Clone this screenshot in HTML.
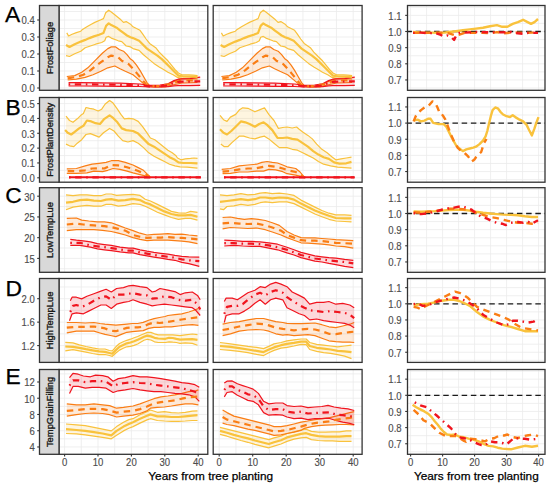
<!DOCTYPE html><html><head><meta charset="utf-8"><style>html,body{margin:0;padding:0;background:#fff;width:550px;height:487px;overflow:hidden}svg{display:block}</style></head><body>
<svg width="550" height="487" viewBox="0 0 550 487">
<rect width="550" height="487" fill="#fff"/>
<path d="M64.60 5.50V90.30M81.30 5.50V90.30M98.00 5.50V90.30M114.70 5.50V90.30M131.40 5.50V90.30M148.10 5.50V90.30M164.80 5.50V90.30M181.50 5.50V90.30M198.20 5.50V90.30M59.00 88.00H207.80M59.00 71.00H207.80M59.00 54.00H207.80M59.00 37.00H207.80M59.00 20.00H207.80M59.00 79.50H207.80M59.00 62.50H207.80M59.00 45.50H207.80M59.00 28.50H207.80M59.00 11.50H207.80" stroke="#ebebeb" stroke-width="0.8" fill="none"/>
<path d="M66.8 32.9 L68.6 36.0 L72.1 34.3 L76.4 32.6 L80.8 31.2 L82.5 29.4 L86.9 26.8 L91.3 24.2 L94.8 22.4 L100.9 19.8 L103.5 18.6 L105.7 12.8 L108.7 10.2 L111.3 12.0 L116.6 16.3 L120.9 19.8 L123.5 22.4 L126.2 21.6 L130.5 24.2 L133.0 26.8 L140.0 30.3 L142.6 33.8 L146.1 39.0 L149.6 43.4 L155.7 47.7 L159.2 52.1 L163.5 56.5 L167.9 60.8 L171.4 65.2 L174.9 69.5 L178.4 73.0 L181.8 74.8 L188.8 74.8 L193.2 75.1 L197.5 75.6 L197.5 79.1 L181.8 78.3 L177.5 77.4 L173.1 74.8 L167.9 72.2 L163.5 69.5 L159.2 66.9 L153.9 63.4 L148.7 59.1 L143.5 54.7 L139.1 50.4 L133.0 48.6 L130.5 46.9 L126.2 46.0 L121.8 41.6 L118.3 40.8 L111.3 38.1 L108.7 36.4 L106.1 37.3 L104.7 40.8 L101.7 42.5 L95.6 44.2 L90.4 46.0 L85.2 47.7 L80.8 51.2 L74.7 53.8 L69.5 56.5 L66.0 55.6Z" fill="#f9c23c" fill-opacity="0.16" stroke="none"/>
<path d="M66.8 32.9 L68.6 36.0 L72.1 34.3 L76.4 32.6 L80.8 31.2 L82.5 29.4 L86.9 26.8 L91.3 24.2 L94.8 22.4 L100.9 19.8 L103.5 18.6 L105.7 12.8 L108.7 10.2 L111.3 12.0 L116.6 16.3 L120.9 19.8 L123.5 22.4 L126.2 21.6 L130.5 24.2 L133.0 26.8 L140.0 30.3 L142.6 33.8 L146.1 39.0 L149.6 43.4 L155.7 47.7 L159.2 52.1 L163.5 56.5 L167.9 60.8 L171.4 65.2 L174.9 69.5 L178.4 73.0 L181.8 74.8 L188.8 74.8 L193.2 75.1 L197.5 75.6" fill="none" stroke="#f9c23c" stroke-width="1.2" stroke-linejoin="round"/>
<path d="M66.0 55.6 L69.5 56.5 L74.7 53.8 L80.8 51.2 L85.2 47.7 L90.4 46.0 L95.6 44.2 L101.7 42.5 L104.7 40.8 L106.1 37.3 L108.7 36.4 L111.3 38.1 L118.3 40.8 L121.8 41.6 L126.2 46.0 L130.5 46.9 L133.0 48.6 L139.1 50.4 L143.5 54.7 L148.7 59.1 L153.9 63.4 L159.2 66.9 L163.5 69.5 L167.9 72.2 L173.1 74.8 L177.5 77.4 L181.8 78.3 L197.5 79.1" fill="none" stroke="#f9c23c" stroke-width="1.2" stroke-linejoin="round"/>
<path d="M66.8 76.5 L74.7 75.6 L81.7 72.2 L87.8 67.8 L91.3 64.3 L96.5 59.1 L102.6 53.0 L107.8 48.6 L111.3 46.9 L115.7 46.9 L119.2 49.5 L123.5 51.2 L127.0 54.7 L130.5 59.1 L133.0 60.8 L136.5 65.2 L140.0 70.4 L143.5 76.5 L147.0 82.6 L149.6 85.6 L155.0 86.5 L165.0 85.5 L175.0 81.0 L181.8 78.5 L197.5 77.5 L197.5 82.5 L182.0 83.0 L175.0 84.5 L165.0 86.8 L155.0 87.0 L147.8 86.1 L143.5 83.5 L138.2 79.1 L133.0 74.8 L125.3 71.3 L120.0 68.7 L114.8 66.0 L107.8 67.8 L100.9 71.3 L93.0 74.8 L85.2 77.4 L76.4 79.1 L67.7 80.0Z" fill="#fa7d14" fill-opacity="0.16" stroke="none"/>
<path d="M66.8 76.5 L74.7 75.6 L81.7 72.2 L87.8 67.8 L91.3 64.3 L96.5 59.1 L102.6 53.0 L107.8 48.6 L111.3 46.9 L115.7 46.9 L119.2 49.5 L123.5 51.2 L127.0 54.7 L130.5 59.1 L133.0 60.8 L136.5 65.2 L140.0 70.4 L143.5 76.5 L147.0 82.6 L149.6 85.6 L155.0 86.5 L165.0 85.5 L175.0 81.0 L181.8 78.5 L197.5 77.5" fill="none" stroke="#fa7d14" stroke-width="1.2" stroke-linejoin="round"/>
<path d="M67.7 80.0 L76.4 79.1 L85.2 77.4 L93.0 74.8 L100.9 71.3 L107.8 67.8 L114.8 66.0 L120.0 68.7 L125.3 71.3 L133.0 74.8 L138.2 79.1 L143.5 83.5 L147.8 86.1 L155.0 87.0 L165.0 86.8 L175.0 84.5 L182.0 83.0 L197.5 82.5" fill="none" stroke="#fa7d14" stroke-width="1.2" stroke-linejoin="round"/>
<path d="M68.6 82.6 L80.0 82.6 L100.0 82.8 L120.0 83.2 L140.0 84.0 L149.6 85.4 L160.0 85.0 L168.0 83.8 L174.0 80.6 L178.0 79.2 L190.0 78.6 L200.2 77.2 L200.2 85.4 L190.0 85.6 L178.0 85.6 L174.0 85.9 L168.0 86.7 L160.0 86.9 L149.6 87.0 L140.0 86.5 L120.0 86.3 L100.0 86.1 L80.0 86.0 L68.6 86.0Z" fill="#f0141e" fill-opacity="0.16" stroke="none"/>
<path d="M68.6 82.6 L80.0 82.6 L100.0 82.8 L120.0 83.2 L140.0 84.0 L149.6 85.4 L160.0 85.0 L168.0 83.8 L174.0 80.6 L178.0 79.2 L190.0 78.6 L200.2 77.2" fill="none" stroke="#f0141e" stroke-width="1.2" stroke-linejoin="round"/>
<path d="M68.6 86.0 L80.0 86.0 L100.0 86.1 L120.0 86.3 L140.0 86.5 L149.6 87.0 L160.0 86.9 L168.0 86.7 L174.0 85.9 L178.0 85.6 L190.0 85.6 L200.2 85.4" fill="none" stroke="#f0141e" stroke-width="1.2" stroke-linejoin="round"/>
<path d="M66.0 45.1 L69.5 46.9 L74.7 44.2 L80.8 41.6 L85.2 39.9 L89.5 38.1 L93.9 36.4 L99.1 34.7 L103.5 32.9 L106.1 25.9 L108.7 23.3 L111.3 25.1 L116.6 27.7 L120.0 30.3 L123.5 32.9 L127.0 35.5 L130.5 37.3 L133.0 38.1 L139.1 40.8 L142.6 44.2 L147.0 48.6 L152.2 52.1 L157.4 55.6 L161.8 59.1 L166.1 63.4 L170.5 67.8 L174.9 72.2 L178.4 75.6 L183.6 76.5 L190.6 76.5 L197.5 76.9" fill="none" stroke="#f9c23c" stroke-width="2.2" stroke-linejoin="round"/>
<path d="M67.7 78.3 L76.4 76.9 L83.4 74.8 L90.4 70.4 L95.6 66.0 L101.7 61.7 L107.8 57.3 L111.3 55.6 L118.3 57.3 L121.8 60.8 L128.8 64.3 L133.0 68.7 L137.4 73.9 L141.7 79.1 L146.1 84.4 L150.0 86.3 L160.0 86.0 L170.0 84.0 L178.0 81.5 L182.0 80.5 L197.5 80.2" fill="none" stroke="#fa7d14" stroke-width="2.2" stroke-dasharray="6.5 5" stroke-linejoin="round"/>
<path d="M68.6 84.3 L80.0 84.3 L100.0 84.5 L120.0 84.8 L140.0 85.3 L149.6 86.3 L160.0 86.1 L168.0 85.4 L174.0 82.8 L178.0 81.8 L190.0 81.6 L200.2 81.3" fill="none" stroke="#f0141e" stroke-width="2.2" stroke-dasharray="1.6 4.6 6.4 4.6" stroke-linejoin="round"/>
<rect x="59.00" y="5.50" width="148.80" height="84.80" fill="none" stroke="#333333" stroke-width="1.3"/>
<path d="M219.20 5.50V90.30M235.95 5.50V90.30M252.70 5.50V90.30M269.45 5.50V90.30M286.20 5.50V90.30M302.95 5.50V90.30M319.70 5.50V90.30M336.45 5.50V90.30M353.20 5.50V90.30M213.20 88.00H362.10M213.20 71.00H362.10M213.20 54.00H362.10M213.20 37.00H362.10M213.20 20.00H362.10M213.20 79.50H362.10M213.20 62.50H362.10M213.20 45.50H362.10M213.20 28.50H362.10M213.20 11.50H362.10" stroke="#ebebeb" stroke-width="0.8" fill="none"/>
<path d="M221.4 32.9 L223.2 36.0 L226.7 34.3 L231.0 32.6 L235.4 31.2 L237.1 29.4 L241.5 26.8 L245.9 24.2 L249.4 22.4 L255.5 19.8 L258.1 18.6 L260.3 12.8 L263.3 10.2 L265.9 12.0 L271.2 16.3 L275.5 19.8 L278.1 22.4 L280.8 21.6 L285.1 24.2 L287.6 26.8 L294.6 30.3 L297.2 33.8 L300.7 39.0 L304.2 43.4 L310.3 47.7 L313.8 52.1 L318.1 56.5 L322.5 60.8 L326.0 65.2 L329.5 69.5 L333.0 73.0 L336.4 74.8 L343.4 74.8 L347.8 75.1 L352.1 75.6 L352.1 79.1 L336.4 78.3 L332.1 77.4 L327.7 74.8 L322.5 72.2 L318.1 69.5 L313.8 66.9 L308.5 63.4 L303.3 59.1 L298.1 54.7 L293.7 50.4 L287.6 48.6 L285.1 46.9 L280.8 46.0 L276.4 41.6 L272.9 40.8 L265.9 38.1 L263.3 36.4 L260.7 37.3 L259.3 40.8 L256.3 42.5 L250.2 44.2 L245.0 46.0 L239.8 47.7 L235.4 51.2 L229.3 53.8 L224.1 56.5 L220.6 55.6Z" fill="#f9c23c" fill-opacity="0.16" stroke="none"/>
<path d="M221.4 32.9 L223.2 36.0 L226.7 34.3 L231.0 32.6 L235.4 31.2 L237.1 29.4 L241.5 26.8 L245.9 24.2 L249.4 22.4 L255.5 19.8 L258.1 18.6 L260.3 12.8 L263.3 10.2 L265.9 12.0 L271.2 16.3 L275.5 19.8 L278.1 22.4 L280.8 21.6 L285.1 24.2 L287.6 26.8 L294.6 30.3 L297.2 33.8 L300.7 39.0 L304.2 43.4 L310.3 47.7 L313.8 52.1 L318.1 56.5 L322.5 60.8 L326.0 65.2 L329.5 69.5 L333.0 73.0 L336.4 74.8 L343.4 74.8 L347.8 75.1 L352.1 75.6" fill="none" stroke="#f9c23c" stroke-width="1.2" stroke-linejoin="round"/>
<path d="M220.6 55.6 L224.1 56.5 L229.3 53.8 L235.4 51.2 L239.8 47.7 L245.0 46.0 L250.2 44.2 L256.3 42.5 L259.3 40.8 L260.7 37.3 L263.3 36.4 L265.9 38.1 L272.9 40.8 L276.4 41.6 L280.8 46.0 L285.1 46.9 L287.6 48.6 L293.7 50.4 L298.1 54.7 L303.3 59.1 L308.5 63.4 L313.8 66.9 L318.1 69.5 L322.5 72.2 L327.7 74.8 L332.1 77.4 L336.4 78.3 L352.1 79.1" fill="none" stroke="#f9c23c" stroke-width="1.2" stroke-linejoin="round"/>
<path d="M221.4 76.5 L229.3 75.6 L236.3 72.2 L242.4 67.8 L245.9 64.3 L251.1 59.1 L257.2 53.0 L262.4 48.6 L265.9 46.9 L270.3 46.9 L273.8 49.5 L278.1 51.2 L281.6 54.7 L285.1 59.1 L287.6 60.8 L291.1 65.2 L294.6 70.4 L298.1 76.5 L301.6 82.6 L304.2 85.6 L309.6 86.5 L319.6 85.5 L329.6 81.0 L336.4 78.5 L352.1 77.5 L352.1 82.5 L336.6 83.0 L329.6 84.5 L319.6 86.8 L309.6 87.0 L302.4 86.1 L298.1 83.5 L292.8 79.1 L287.6 74.8 L279.9 71.3 L274.6 68.7 L269.4 66.0 L262.4 67.8 L255.5 71.3 L247.6 74.8 L239.8 77.4 L231.0 79.1 L222.3 80.0Z" fill="#fa7d14" fill-opacity="0.16" stroke="none"/>
<path d="M221.4 76.5 L229.3 75.6 L236.3 72.2 L242.4 67.8 L245.9 64.3 L251.1 59.1 L257.2 53.0 L262.4 48.6 L265.9 46.9 L270.3 46.9 L273.8 49.5 L278.1 51.2 L281.6 54.7 L285.1 59.1 L287.6 60.8 L291.1 65.2 L294.6 70.4 L298.1 76.5 L301.6 82.6 L304.2 85.6 L309.6 86.5 L319.6 85.5 L329.6 81.0 L336.4 78.5 L352.1 77.5" fill="none" stroke="#fa7d14" stroke-width="1.2" stroke-linejoin="round"/>
<path d="M222.3 80.0 L231.0 79.1 L239.8 77.4 L247.6 74.8 L255.5 71.3 L262.4 67.8 L269.4 66.0 L274.6 68.7 L279.9 71.3 L287.6 74.8 L292.8 79.1 L298.1 83.5 L302.4 86.1 L309.6 87.0 L319.6 86.8 L329.6 84.5 L336.6 83.0 L352.1 82.5" fill="none" stroke="#fa7d14" stroke-width="1.2" stroke-linejoin="round"/>
<path d="M223.2 82.6 L234.6 82.6 L254.6 82.8 L274.6 83.2 L294.6 84.0 L304.2 85.4 L314.6 85.0 L322.6 83.8 L328.6 80.6 L332.6 79.2 L344.6 78.6 L354.8 77.2 L354.8 85.4 L344.6 85.6 L332.6 85.6 L328.6 85.9 L322.6 86.7 L314.6 86.9 L304.2 87.0 L294.6 86.5 L274.6 86.3 L254.6 86.1 L234.6 86.0 L223.2 86.0Z" fill="#f0141e" fill-opacity="0.16" stroke="none"/>
<path d="M223.2 82.6 L234.6 82.6 L254.6 82.8 L274.6 83.2 L294.6 84.0 L304.2 85.4 L314.6 85.0 L322.6 83.8 L328.6 80.6 L332.6 79.2 L344.6 78.6 L354.8 77.2" fill="none" stroke="#f0141e" stroke-width="1.2" stroke-linejoin="round"/>
<path d="M223.2 86.0 L234.6 86.0 L254.6 86.1 L274.6 86.3 L294.6 86.5 L304.2 87.0 L314.6 86.9 L322.6 86.7 L328.6 85.9 L332.6 85.6 L344.6 85.6 L354.8 85.4" fill="none" stroke="#f0141e" stroke-width="1.2" stroke-linejoin="round"/>
<path d="M220.6 45.1 L224.1 46.9 L229.3 44.2 L235.4 41.6 L239.8 39.9 L244.1 38.1 L248.5 36.4 L253.7 34.7 L258.1 32.9 L260.7 25.9 L263.3 23.3 L265.9 25.1 L271.2 27.7 L274.6 30.3 L278.1 32.9 L281.6 35.5 L285.1 37.3 L287.6 38.1 L293.7 40.8 L297.2 44.2 L301.6 48.6 L306.8 52.1 L312.0 55.6 L316.4 59.1 L320.7 63.4 L325.1 67.8 L329.5 72.2 L333.0 75.6 L338.2 76.5 L345.2 76.5 L352.1 76.9" fill="none" stroke="#f9c23c" stroke-width="2.2" stroke-linejoin="round"/>
<path d="M222.3 78.3 L231.0 76.9 L238.0 74.8 L245.0 70.4 L250.2 66.0 L256.3 61.7 L262.4 57.3 L265.9 55.6 L272.9 57.3 L276.4 60.8 L283.4 64.3 L287.6 68.7 L292.0 73.9 L296.3 79.1 L300.7 84.4 L304.6 86.3 L314.6 86.0 L324.6 84.0 L332.6 81.5 L336.6 80.5 L352.1 80.2" fill="none" stroke="#fa7d14" stroke-width="2.2" stroke-dasharray="6.5 5" stroke-linejoin="round"/>
<path d="M223.2 84.3 L234.6 84.3 L254.6 84.5 L274.6 84.8 L294.6 85.3 L304.2 86.3 L314.6 86.1 L322.6 85.4 L328.6 82.8 L332.6 81.8 L344.6 81.6 L354.8 81.3" fill="none" stroke="#f0141e" stroke-width="2.2" stroke-dasharray="1.6 4.6 6.4 4.6" stroke-linejoin="round"/>
<rect x="213.20" y="5.50" width="148.90" height="84.80" fill="none" stroke="#333333" stroke-width="1.3"/>
<path d="M410.60 5.50V90.30M426.60 5.50V90.30M442.60 5.50V90.30M458.60 5.50V90.30M474.60 5.50V90.30M490.60 5.50V90.30M506.60 5.50V90.30M522.60 5.50V90.30M538.60 5.50V90.30M407.50 79.95H545.00M407.50 63.80H545.00M407.50 47.65H545.00M407.50 31.50H545.00M407.50 15.35H545.00M407.50 88.03H545.00M407.50 71.88H545.00M407.50 55.73H545.00M407.50 39.58H545.00M407.50 23.42H545.00M407.50 7.28H545.00" stroke="#ebebeb" stroke-width="0.8" fill="none"/>
<path d="M407.5 31.50H545" stroke="#1a1a1a" stroke-width="1.3" stroke-dasharray="5.5 3.71" stroke-dashoffset="1.1"/>
<path d="M413.1 32.0 L420.0 32.4 L430.0 32.6 L441.9 32.9 L448.9 32.0 L455.9 31.2 L462.9 30.3 L469.8 29.4 L476.0 28.6 L483.0 27.7 L490.0 26.3 L496.9 25.1 L502.2 26.8 L507.4 26.8 L512.7 23.9 L517.9 22.1 L523.1 19.8 L526.6 21.6 L531.0 23.9 L534.5 22.1 L538.0 19.0" fill="none" stroke="#f9c23c" stroke-width="2.4" stroke-linejoin="round"/>
<path d="M413.1 32.9 L424.5 32.9 L433.2 32.9 L441.9 32.6 L448.9 33.3 L455.9 35.5 L459.4 34.7 L464.6 32.9 L477.0 32.9 L483.0 32.9 L490.0 33.3 L496.9 32.1 L503.9 33.3 L510.9 32.6 L517.9 32.6 L524.9 32.9 L531.9 32.6 L538.0 32.6" fill="none" stroke="#fa7d14" stroke-width="2.4" stroke-dasharray="6.5 5" stroke-linejoin="round"/>
<path d="M413.1 32.9 L421.0 32.6 L428.0 33.3 L434.9 32.9 L440.2 34.7 L443.7 36.4 L447.2 35.5 L451.5 37.3 L454.1 39.9 L457.0 34.0 L459.4 32.9 L477.0 32.0 L490.0 32.3 L500.0 32.4 L510.9 32.0 L517.9 33.3 L523.1 33.8 L528.4 32.9 L538.0 32.9" fill="none" stroke="#f0141e" stroke-width="2.4" stroke-dasharray="1.6 4.6 6.4 4.6" stroke-linejoin="round"/>
<rect x="407.50" y="5.50" width="137.50" height="84.80" fill="none" stroke="#333333" stroke-width="1.3"/>
<rect x="39.50" y="5.50" width="19.50" height="84.80" fill="#d9d9d9" stroke="#333333" stroke-width="1.3"/>
<text transform="translate(52.55,47.90) rotate(-90)" text-anchor="middle" font-family="Liberation Sans, sans-serif" font-size="9.4" fill="#1a1a1a" stroke="#1a1a1a" stroke-width="0.35">FrostFoliage</text>
<path d="M37.2 88.00H39.5" stroke="#333333" stroke-width="1.1"/>
<text transform="translate(34.8,92.30) scale(0.9,1)" text-anchor="end" font-family="Liberation Sans, sans-serif" font-size="10.6" fill="#4d4d4d" stroke="#4d4d4d" stroke-width="0.15">0.0</text>
<path d="M37.2 71.00H39.5" stroke="#333333" stroke-width="1.1"/>
<text transform="translate(34.8,75.30) scale(0.9,1)" text-anchor="end" font-family="Liberation Sans, sans-serif" font-size="10.6" fill="#4d4d4d" stroke="#4d4d4d" stroke-width="0.15">0.1</text>
<path d="M37.2 54.00H39.5" stroke="#333333" stroke-width="1.1"/>
<text transform="translate(34.8,58.30) scale(0.9,1)" text-anchor="end" font-family="Liberation Sans, sans-serif" font-size="10.6" fill="#4d4d4d" stroke="#4d4d4d" stroke-width="0.15">0.2</text>
<path d="M37.2 37.00H39.5" stroke="#333333" stroke-width="1.1"/>
<text transform="translate(34.8,41.30) scale(0.9,1)" text-anchor="end" font-family="Liberation Sans, sans-serif" font-size="10.6" fill="#4d4d4d" stroke="#4d4d4d" stroke-width="0.15">0.3</text>
<path d="M37.2 20.00H39.5" stroke="#333333" stroke-width="1.1"/>
<text transform="translate(34.8,24.30) scale(0.9,1)" text-anchor="end" font-family="Liberation Sans, sans-serif" font-size="10.6" fill="#4d4d4d" stroke="#4d4d4d" stroke-width="0.15">0.4</text>
<path d="M405.2 79.95H407.5" stroke="#333333" stroke-width="1.1"/>
<text transform="translate(401.6,84.25) scale(0.9,1)" text-anchor="end" font-family="Liberation Sans, sans-serif" font-size="10.6" fill="#4d4d4d" stroke="#4d4d4d" stroke-width="0.15">0.7</text>
<path d="M405.2 63.80H407.5" stroke="#333333" stroke-width="1.1"/>
<text transform="translate(401.6,68.10) scale(0.9,1)" text-anchor="end" font-family="Liberation Sans, sans-serif" font-size="10.6" fill="#4d4d4d" stroke="#4d4d4d" stroke-width="0.15">0.8</text>
<path d="M405.2 47.65H407.5" stroke="#333333" stroke-width="1.1"/>
<text transform="translate(401.6,51.95) scale(0.9,1)" text-anchor="end" font-family="Liberation Sans, sans-serif" font-size="10.6" fill="#4d4d4d" stroke="#4d4d4d" stroke-width="0.15">0.9</text>
<path d="M405.2 31.50H407.5" stroke="#333333" stroke-width="1.1"/>
<text transform="translate(401.6,35.80) scale(0.9,1)" text-anchor="end" font-family="Liberation Sans, sans-serif" font-size="10.6" fill="#4d4d4d" stroke="#4d4d4d" stroke-width="0.15">1.0</text>
<path d="M405.2 15.35H407.5" stroke="#333333" stroke-width="1.1"/>
<text transform="translate(401.6,19.65) scale(0.9,1)" text-anchor="end" font-family="Liberation Sans, sans-serif" font-size="10.6" fill="#4d4d4d" stroke="#4d4d4d" stroke-width="0.15">1.1</text>
<text x="5.0" y="22.2" font-family="Liberation Sans, sans-serif" font-size="22.8" fill="#000" stroke="#000" stroke-width="0.25">A</text>
<path d="M64.60 97.50V182.20M81.30 97.50V182.20M98.00 97.50V182.20M114.70 97.50V182.20M131.40 97.50V182.20M148.10 97.50V182.20M164.80 97.50V182.20M181.50 97.50V182.20M198.20 97.50V182.20M59.00 177.80H207.80M59.00 162.96H207.80M59.00 148.12H207.80M59.00 133.28H207.80M59.00 118.44H207.80M59.00 103.60H207.80M59.00 170.38H207.80M59.00 155.54H207.80M59.00 140.70H207.80M59.00 125.86H207.80M59.00 111.02H207.80" stroke="#ebebeb" stroke-width="0.8" fill="none"/>
<path d="M66.0 116.2 L69.5 120.5 L73.0 122.3 L77.3 118.8 L80.8 115.3 L83.4 113.6 L86.0 107.5 L89.5 108.3 L93.9 109.2 L98.2 111.0 L101.7 109.2 L105.2 104.0 L109.6 100.5 L113.1 103.1 L117.4 109.2 L120.9 114.4 L124.4 118.8 L128.8 118.3 L133.0 118.8 L138.2 121.4 L142.6 126.7 L147.0 132.8 L150.4 138.0 L154.8 139.7 L159.2 143.2 L163.5 146.7 L167.9 150.2 L172.2 152.8 L175.7 155.4 L177.5 158.0 L181.0 159.8 L185.3 158.9 L190.6 158.4 L194.0 158.0 L197.5 158.4 L197.5 168.2 L192.3 167.6 L187.1 167.1 L180.1 166.8 L174.9 165.9 L169.6 164.2 L164.4 161.5 L159.2 158.9 L154.0 156.3 L148.7 152.8 L143.5 147.6 L138.2 143.2 L133.0 140.6 L127.9 142.0 L122.7 140.6 L118.3 136.2 L114.0 131.0 L109.6 128.4 L103.5 132.8 L99.1 137.1 L94.8 135.4 L90.4 133.6 L86.0 134.5 L81.7 139.7 L77.3 143.2 L73.8 146.7 L69.5 145.8 L66.0 144.1Z" fill="#f9c23c" fill-opacity="0.16" stroke="none"/>
<path d="M66.0 116.2 L69.5 120.5 L73.0 122.3 L77.3 118.8 L80.8 115.3 L83.4 113.6 L86.0 107.5 L89.5 108.3 L93.9 109.2 L98.2 111.0 L101.7 109.2 L105.2 104.0 L109.6 100.5 L113.1 103.1 L117.4 109.2 L120.9 114.4 L124.4 118.8 L128.8 118.3 L133.0 118.8 L138.2 121.4 L142.6 126.7 L147.0 132.8 L150.4 138.0 L154.8 139.7 L159.2 143.2 L163.5 146.7 L167.9 150.2 L172.2 152.8 L175.7 155.4 L177.5 158.0 L181.0 159.8 L185.3 158.9 L190.6 158.4 L194.0 158.0 L197.5 158.4" fill="none" stroke="#f9c23c" stroke-width="1.2" stroke-linejoin="round"/>
<path d="M66.0 144.1 L69.5 145.8 L73.8 146.7 L77.3 143.2 L81.7 139.7 L86.0 134.5 L90.4 133.6 L94.8 135.4 L99.1 137.1 L103.5 132.8 L109.6 128.4 L114.0 131.0 L118.3 136.2 L122.7 140.6 L127.9 142.0 L133.0 140.6 L138.2 143.2 L143.5 147.6 L148.7 152.8 L154.0 156.3 L159.2 158.9 L164.4 161.5 L169.6 164.2 L174.9 165.9 L180.1 166.8 L187.1 167.1 L192.3 167.6 L197.5 168.2" fill="none" stroke="#f9c23c" stroke-width="1.2" stroke-linejoin="round"/>
<path d="M66.8 168.9 L76.4 168.5 L85.2 165.9 L92.1 164.2 L99.1 163.3 L106.1 162.4 L111.3 160.7 L118.3 160.7 L125.3 162.4 L133.0 165.0 L138.2 167.6 L143.5 170.3 L147.8 174.6 L150.2 177.0 L150.2 177.5 L147.0 176.4 L140.0 174.6 L133.0 172.9 L127.0 171.1 L120.0 169.4 L113.1 168.5 L107.8 170.3 L102.6 171.7 L93.9 171.1 L86.9 172.9 L76.4 173.4 L66.8 173.4Z" fill="#fa7d14" fill-opacity="0.16" stroke="none"/>
<path d="M66.8 168.9 L76.4 168.5 L85.2 165.9 L92.1 164.2 L99.1 163.3 L106.1 162.4 L111.3 160.7 L118.3 160.7 L125.3 162.4 L133.0 165.0 L138.2 167.6 L143.5 170.3 L147.8 174.6 L150.2 177.0" fill="none" stroke="#fa7d14" stroke-width="1.2" stroke-linejoin="round"/>
<path d="M66.8 173.4 L76.4 173.4 L86.9 172.9 L93.9 171.1 L102.6 171.7 L107.8 170.3 L113.1 168.5 L120.0 169.4 L127.0 171.1 L133.0 172.9 L140.0 174.6 L147.0 176.4 L150.2 177.5" fill="none" stroke="#fa7d14" stroke-width="1.2" stroke-linejoin="round"/>
<path d="M69.0 176.9 L200.8 176.9 L200.8 177.7 L69.0 177.7Z" fill="#f0141e" fill-opacity="0.16" stroke="none"/>
<path d="M69.0 176.9 L200.8 176.9" fill="none" stroke="#f0141e" stroke-width="1.2" stroke-linejoin="round"/>
<path d="M69.0 177.7 L200.8 177.7" fill="none" stroke="#f0141e" stroke-width="1.2" stroke-linejoin="round"/>
<path d="M65.1 130.1 L67.7 132.8 L71.2 134.5 L74.7 131.9 L79.1 128.4 L83.4 125.8 L86.9 120.5 L91.3 121.4 L95.6 123.2 L100.0 124.0 L104.4 118.8 L109.6 115.3 L113.1 117.9 L117.4 122.3 L121.8 128.4 L126.2 130.1 L133.0 131.0 L138.2 133.6 L143.5 138.9 L148.7 144.1 L154.0 146.7 L159.2 150.2 L164.4 153.7 L169.6 157.2 L174.9 159.8 L178.4 162.4 L183.6 163.0 L190.6 163.0 L197.5 163.3" fill="none" stroke="#f9c23c" stroke-width="2.2" stroke-linejoin="round"/>
<path d="M67.7 171.1 L76.4 171.1 L85.2 170.3 L92.1 168.5 L99.1 168.2 L104.4 168.5 L111.3 165.0 L118.3 165.4 L125.3 166.8 L133.0 169.0 L138.2 171.0 L143.5 173.3 L147.8 175.6 L150.2 177.3" fill="none" stroke="#fa7d14" stroke-width="2.2" stroke-dasharray="6.5 5" stroke-linejoin="round"/>
<path d="M69.0 177.3 L200.8 177.3" fill="none" stroke="#f0141e" stroke-width="2.2" stroke-dasharray="1.6 4.6 6.4 4.6" stroke-linejoin="round"/>
<rect x="59.00" y="97.50" width="148.80" height="84.70" fill="none" stroke="#333333" stroke-width="1.3"/>
<path d="M219.20 97.50V182.20M235.95 97.50V182.20M252.70 97.50V182.20M269.45 97.50V182.20M286.20 97.50V182.20M302.95 97.50V182.20M319.70 97.50V182.20M336.45 97.50V182.20M353.20 97.50V182.20M213.20 177.80H362.10M213.20 162.96H362.10M213.20 148.12H362.10M213.20 133.28H362.10M213.20 118.44H362.10M213.20 103.60H362.10M213.20 170.38H362.10M213.20 155.54H362.10M213.20 140.70H362.10M213.20 125.86H362.10M213.20 111.02H362.10" stroke="#ebebeb" stroke-width="0.8" fill="none"/>
<path d="M220.0 115.3 L223.5 119.7 L227.0 121.4 L230.4 117.1 L235.7 114.4 L239.2 110.1 L242.7 107.8 L247.9 108.3 L254.9 111.8 L260.1 109.6 L264.5 107.8 L268.8 114.4 L274.0 120.5 L278.4 128.4 L282.8 127.5 L287.0 127.0 L292.2 128.0 L296.6 127.0 L299.2 129.3 L302.7 131.9 L307.9 135.4 L312.3 138.9 L316.7 144.1 L321.9 149.3 L327.1 152.8 L332.4 157.2 L335.8 159.8 L341.1 158.9 L346.3 158.0 L351.5 157.2 L351.5 168.2 L344.6 167.6 L337.6 167.1 L330.6 165.9 L323.6 164.2 L318.4 161.5 L313.2 158.0 L307.9 155.4 L302.7 152.8 L297.5 150.2 L292.2 149.3 L287.0 147.6 L279.3 147.6 L274.0 143.2 L268.8 138.9 L264.5 136.2 L260.1 137.1 L254.9 138.9 L249.6 138.0 L243.5 136.2 L239.2 136.2 L232.2 142.4 L227.8 146.7 L224.3 146.7 L220.8 144.1Z" fill="#f9c23c" fill-opacity="0.16" stroke="none"/>
<path d="M220.0 115.3 L223.5 119.7 L227.0 121.4 L230.4 117.1 L235.7 114.4 L239.2 110.1 L242.7 107.8 L247.9 108.3 L254.9 111.8 L260.1 109.6 L264.5 107.8 L268.8 114.4 L274.0 120.5 L278.4 128.4 L282.8 127.5 L287.0 127.0 L292.2 128.0 L296.6 127.0 L299.2 129.3 L302.7 131.9 L307.9 135.4 L312.3 138.9 L316.7 144.1 L321.9 149.3 L327.1 152.8 L332.4 157.2 L335.8 159.8 L341.1 158.9 L346.3 158.0 L351.5 157.2" fill="none" stroke="#f9c23c" stroke-width="1.2" stroke-linejoin="round"/>
<path d="M220.8 144.1 L224.3 146.7 L227.8 146.7 L232.2 142.4 L239.2 136.2 L243.5 136.2 L249.6 138.0 L254.9 138.9 L260.1 137.1 L264.5 136.2 L268.8 138.9 L274.0 143.2 L279.3 147.6 L287.0 147.6 L292.2 149.3 L297.5 150.2 L302.7 152.8 L307.9 155.4 L313.2 158.0 L318.4 161.5 L323.6 164.2 L330.6 165.9 L337.6 167.1 L344.6 167.6 L351.5 168.2" fill="none" stroke="#f9c23c" stroke-width="1.2" stroke-linejoin="round"/>
<path d="M221.7 169.4 L230.4 168.5 L239.2 165.9 L247.9 165.0 L256.6 164.2 L261.8 162.4 L267.1 161.5 L272.3 162.4 L277.5 163.0 L282.8 165.0 L287.0 166.8 L295.7 168.5 L300.1 172.0 L303.6 176.4 L305.0 177.0 L305.0 177.5 L302.7 176.9 L295.7 175.1 L287.0 173.7 L282.8 171.7 L275.8 169.9 L268.8 169.4 L263.6 171.1 L256.6 171.1 L247.9 172.0 L239.2 172.0 L230.4 173.4 L222.6 173.7Z" fill="#fa7d14" fill-opacity="0.16" stroke="none"/>
<path d="M221.7 169.4 L230.4 168.5 L239.2 165.9 L247.9 165.0 L256.6 164.2 L261.8 162.4 L267.1 161.5 L272.3 162.4 L277.5 163.0 L282.8 165.0 L287.0 166.8 L295.7 168.5 L300.1 172.0 L303.6 176.4 L305.0 177.0" fill="none" stroke="#fa7d14" stroke-width="1.2" stroke-linejoin="round"/>
<path d="M222.6 173.7 L230.4 173.4 L239.2 172.0 L247.9 172.0 L256.6 171.1 L263.6 171.1 L268.8 169.4 L275.8 169.9 L282.8 171.7 L287.0 173.7 L295.7 175.1 L302.7 176.9 L305.0 177.5" fill="none" stroke="#fa7d14" stroke-width="1.2" stroke-linejoin="round"/>
<path d="M224.0 176.9 L354.5 176.9 L354.5 177.7 L224.0 177.7Z" fill="#f0141e" fill-opacity="0.16" stroke="none"/>
<path d="M224.0 176.9 L354.5 176.9" fill="none" stroke="#f0141e" stroke-width="1.2" stroke-linejoin="round"/>
<path d="M224.0 177.7 L354.5 177.7" fill="none" stroke="#f0141e" stroke-width="1.2" stroke-linejoin="round"/>
<path d="M220.0 129.3 L223.5 132.8 L227.0 134.5 L231.3 131.0 L235.7 126.7 L240.9 121.4 L245.3 122.3 L249.6 124.0 L254.9 126.7 L259.2 124.0 L263.6 122.3 L267.1 124.9 L272.3 130.1 L277.5 137.9 L282.8 138.0 L287.0 137.5 L292.2 138.9 L297.5 139.7 L302.7 143.2 L307.9 146.7 L313.2 151.1 L318.4 154.6 L323.6 157.2 L328.9 158.9 L334.1 162.4 L339.3 163.6 L346.3 163.3 L351.5 161.9" fill="none" stroke="#f9c23c" stroke-width="2.2" stroke-linejoin="round"/>
<path d="M222.6 171.7 L230.4 171.1 L239.2 169.4 L247.9 168.5 L254.9 168.5 L263.6 166.8 L268.8 165.9 L275.8 166.8 L282.8 168.5 L287.0 170.0 L295.7 172.0 L300.1 174.5 L303.6 177.0 L305.0 177.3" fill="none" stroke="#fa7d14" stroke-width="2.2" stroke-dasharray="6.5 5" stroke-linejoin="round"/>
<path d="M224.0 177.3 L354.5 177.3" fill="none" stroke="#f0141e" stroke-width="2.2" stroke-dasharray="1.6 4.6 6.4 4.6" stroke-linejoin="round"/>
<rect x="213.20" y="97.50" width="148.90" height="84.70" fill="none" stroke="#333333" stroke-width="1.3"/>
<path d="M410.60 97.50V182.20M426.60 97.50V182.20M442.60 97.50V182.20M458.60 97.50V182.20M474.60 97.50V182.20M490.60 97.50V182.20M506.60 97.50V182.20M522.60 97.50V182.20M538.60 97.50V182.20M407.50 171.55H545.00M407.50 155.40H545.00M407.50 139.25H545.00M407.50 123.10H545.00M407.50 106.95H545.00M407.50 179.62H545.00M407.50 163.47H545.00M407.50 147.32H545.00M407.50 131.18H545.00M407.50 115.02H545.00M407.50 98.88H545.00" stroke="#ebebeb" stroke-width="0.8" fill="none"/>
<path d="M407.5 123.10H545" stroke="#1a1a1a" stroke-width="1.3" stroke-dasharray="5.5 3.71" stroke-dashoffset="1.1"/>
<path d="M413.6 120.6 L417.5 119.7 L421.0 121.4 L424.5 120.6 L428.0 118.8 L430.6 118.8 L433.2 122.8 L438.4 124.1 L443.7 124.1 L446.3 126.7 L448.9 131.9 L452.4 138.9 L455.9 145.0 L459.4 148.5 L462.9 151.1 L466.3 149.4 L469.8 148.5 L473.3 147.6 L476.0 146.7 L479.5 144.1 L483.0 140.6 L485.6 136.3 L487.3 131.0 L489.1 123.2 L490.8 116.2 L492.6 110.1 L495.2 107.5 L497.8 108.3 L500.4 111.8 L503.1 114.5 L506.5 116.2 L510.0 117.1 L512.7 115.3 L515.3 117.1 L519.6 119.7 L523.1 121.4 L526.6 124.9 L529.2 130.2 L531.9 135.4 L534.5 128.4 L536.2 123.2 L538.5 117.1" fill="none" stroke="#f9c23c" stroke-width="2.4" stroke-linejoin="round"/>
<path d="M413.6 121.4 L415.7 116.2 L417.5 113.6 L421.0 110.1 L424.5 107.5 L428.0 106.6 L432.3 101.4 L434.9 102.2 L437.5 107.5 L440.2 114.5 L442.8 115.3 L445.4 119.7 L448.0 126.7 L450.6 133.7 L454.1 141.5 L457.6 147.6 L461.1 151.1 L464.6 152.9 L468.1 156.3 L471.6 161.6 L474.2 159.8 L476.0 157.2 L478.6 154.6 L481.2 152.0 L483.9 143.3 L486.5 139.0" fill="none" stroke="#fa7d14" stroke-width="2.4" stroke-dasharray="6.5 5" stroke-linejoin="round"/>
<rect x="407.50" y="97.50" width="137.50" height="84.70" fill="none" stroke="#333333" stroke-width="1.3"/>
<rect x="39.50" y="97.50" width="19.50" height="84.70" fill="#d9d9d9" stroke="#333333" stroke-width="1.3"/>
<text transform="translate(52.55,139.85) rotate(-90)" text-anchor="middle" font-family="Liberation Sans, sans-serif" font-size="9.4" fill="#1a1a1a" stroke="#1a1a1a" stroke-width="0.35">FrostPlantDensity</text>
<path d="M37.2 177.80H39.5" stroke="#333333" stroke-width="1.1"/>
<text transform="translate(34.8,182.10) scale(0.9,1)" text-anchor="end" font-family="Liberation Sans, sans-serif" font-size="10.6" fill="#4d4d4d" stroke="#4d4d4d" stroke-width="0.15">0.0</text>
<path d="M37.2 162.96H39.5" stroke="#333333" stroke-width="1.1"/>
<text transform="translate(34.8,167.26) scale(0.9,1)" text-anchor="end" font-family="Liberation Sans, sans-serif" font-size="10.6" fill="#4d4d4d" stroke="#4d4d4d" stroke-width="0.15">0.1</text>
<path d="M37.2 148.12H39.5" stroke="#333333" stroke-width="1.1"/>
<text transform="translate(34.8,152.42) scale(0.9,1)" text-anchor="end" font-family="Liberation Sans, sans-serif" font-size="10.6" fill="#4d4d4d" stroke="#4d4d4d" stroke-width="0.15">0.2</text>
<path d="M37.2 133.28H39.5" stroke="#333333" stroke-width="1.1"/>
<text transform="translate(34.8,137.58) scale(0.9,1)" text-anchor="end" font-family="Liberation Sans, sans-serif" font-size="10.6" fill="#4d4d4d" stroke="#4d4d4d" stroke-width="0.15">0.3</text>
<path d="M37.2 118.44H39.5" stroke="#333333" stroke-width="1.1"/>
<text transform="translate(34.8,122.74) scale(0.9,1)" text-anchor="end" font-family="Liberation Sans, sans-serif" font-size="10.6" fill="#4d4d4d" stroke="#4d4d4d" stroke-width="0.15">0.4</text>
<path d="M37.2 103.60H39.5" stroke="#333333" stroke-width="1.1"/>
<text transform="translate(34.8,107.90) scale(0.9,1)" text-anchor="end" font-family="Liberation Sans, sans-serif" font-size="10.6" fill="#4d4d4d" stroke="#4d4d4d" stroke-width="0.15">0.5</text>
<path d="M405.2 171.55H407.5" stroke="#333333" stroke-width="1.1"/>
<text transform="translate(401.6,175.85) scale(0.9,1)" text-anchor="end" font-family="Liberation Sans, sans-serif" font-size="10.6" fill="#4d4d4d" stroke="#4d4d4d" stroke-width="0.15">0.7</text>
<path d="M405.2 155.40H407.5" stroke="#333333" stroke-width="1.1"/>
<text transform="translate(401.6,159.70) scale(0.9,1)" text-anchor="end" font-family="Liberation Sans, sans-serif" font-size="10.6" fill="#4d4d4d" stroke="#4d4d4d" stroke-width="0.15">0.8</text>
<path d="M405.2 139.25H407.5" stroke="#333333" stroke-width="1.1"/>
<text transform="translate(401.6,143.55) scale(0.9,1)" text-anchor="end" font-family="Liberation Sans, sans-serif" font-size="10.6" fill="#4d4d4d" stroke="#4d4d4d" stroke-width="0.15">0.9</text>
<path d="M405.2 123.10H407.5" stroke="#333333" stroke-width="1.1"/>
<text transform="translate(401.6,127.40) scale(0.9,1)" text-anchor="end" font-family="Liberation Sans, sans-serif" font-size="10.6" fill="#4d4d4d" stroke="#4d4d4d" stroke-width="0.15">1.0</text>
<path d="M405.2 106.95H407.5" stroke="#333333" stroke-width="1.1"/>
<text transform="translate(401.6,111.25) scale(0.9,1)" text-anchor="end" font-family="Liberation Sans, sans-serif" font-size="10.6" fill="#4d4d4d" stroke="#4d4d4d" stroke-width="0.15">1.1</text>
<text x="5.4" y="114.8" font-family="Liberation Sans, sans-serif" font-size="22.8" fill="#000" stroke="#000" stroke-width="0.25">B</text>
<path d="M64.60 187.70V272.30M81.30 187.70V272.30M98.00 187.70V272.30M114.70 187.70V272.30M131.40 187.70V272.30M148.10 187.70V272.30M164.80 187.70V272.30M181.50 187.70V272.30M198.20 187.70V272.30M59.00 258.40H207.80M59.00 237.67H207.80M59.00 216.94H207.80M59.00 196.20H207.80M59.00 268.77H207.80M59.00 248.04H207.80M59.00 227.30H207.80M59.00 206.57H207.80" stroke="#ebebeb" stroke-width="0.8" fill="none"/>
<path d="M66.0 194.8 L73.0 195.7 L79.9 194.8 L86.9 194.8 L93.9 195.7 L100.9 195.7 L106.1 194.0 L111.3 194.0 L116.6 195.4 L123.5 194.8 L133.0 194.3 L140.0 195.4 L145.2 199.2 L150.4 201.0 L157.4 204.4 L164.4 207.9 L171.4 211.4 L178.4 212.8 L185.3 213.2 L190.6 211.4 L197.5 212.3 L197.5 220.1 L190.6 218.4 L185.3 218.4 L178.4 219.3 L171.4 217.5 L164.4 214.9 L157.4 212.3 L150.4 208.8 L145.2 206.2 L140.0 204.4 L133.0 203.6 L125.3 205.3 L118.3 206.2 L111.3 204.4 L106.1 204.4 L100.9 206.2 L93.9 206.2 L86.9 205.3 L79.9 206.2 L73.0 207.1 L66.0 209.7Z" fill="#f9c23c" fill-opacity="0.16" stroke="none"/>
<path d="M66.0 194.8 L73.0 195.7 L79.9 194.8 L86.9 194.8 L93.9 195.7 L100.9 195.7 L106.1 194.0 L111.3 194.0 L116.6 195.4 L123.5 194.8 L133.0 194.3 L140.0 195.4 L145.2 199.2 L150.4 201.0 L157.4 204.4 L164.4 207.9 L171.4 211.4 L178.4 212.8 L185.3 213.2 L190.6 211.4 L197.5 212.3" fill="none" stroke="#f9c23c" stroke-width="1.2" stroke-linejoin="round"/>
<path d="M66.0 209.7 L73.0 207.1 L79.9 206.2 L86.9 205.3 L93.9 206.2 L100.9 206.2 L106.1 204.4 L111.3 204.4 L118.3 206.2 L125.3 205.3 L133.0 203.6 L140.0 204.4 L145.2 206.2 L150.4 208.8 L157.4 212.3 L164.4 214.9 L171.4 217.5 L178.4 219.3 L185.3 218.4 L190.6 218.4 L197.5 220.1" fill="none" stroke="#f9c23c" stroke-width="1.2" stroke-linejoin="round"/>
<path d="M66.8 218.4 L76.4 218.0 L81.7 220.1 L88.7 221.0 L97.4 221.9 L104.4 221.9 L111.3 222.8 L118.3 225.4 L125.3 228.0 L133.0 230.6 L140.0 233.2 L147.0 235.0 L153.9 234.4 L160.9 234.1 L167.9 233.7 L174.9 234.4 L181.8 234.1 L188.8 235.0 L197.5 235.8 L197.5 243.7 L188.8 241.9 L181.8 241.1 L174.9 240.7 L167.9 240.2 L160.9 240.2 L153.9 240.2 L147.0 240.7 L140.0 239.3 L133.0 237.6 L125.3 235.0 L118.3 233.2 L111.3 231.5 L102.6 230.3 L93.9 229.7 L85.2 229.7 L76.4 229.7 L66.8 230.6Z" fill="#fa7d14" fill-opacity="0.16" stroke="none"/>
<path d="M66.8 218.4 L76.4 218.0 L81.7 220.1 L88.7 221.0 L97.4 221.9 L104.4 221.9 L111.3 222.8 L118.3 225.4 L125.3 228.0 L133.0 230.6 L140.0 233.2 L147.0 235.0 L153.9 234.4 L160.9 234.1 L167.9 233.7 L174.9 234.4 L181.8 234.1 L188.8 235.0 L197.5 235.8" fill="none" stroke="#fa7d14" stroke-width="1.2" stroke-linejoin="round"/>
<path d="M66.8 230.6 L76.4 229.7 L85.2 229.7 L93.9 229.7 L102.6 230.3 L111.3 231.5 L118.3 233.2 L125.3 235.0 L133.0 237.6 L140.0 239.3 L147.0 240.7 L153.9 240.2 L160.9 240.2 L167.9 240.2 L174.9 240.7 L181.8 241.1 L188.8 241.9 L197.5 243.7" fill="none" stroke="#fa7d14" stroke-width="1.2" stroke-linejoin="round"/>
<path d="M70.3 239.3 L76.4 240.2 L85.2 241.1 L90.4 241.9 L97.4 243.7 L104.4 244.6 L111.3 245.4 L120.0 247.2 L128.8 248.1 L133.0 248.1 L140.0 249.8 L147.0 251.2 L153.9 252.4 L160.9 253.3 L167.9 254.2 L174.9 255.4 L181.8 256.4 L188.8 256.8 L199.3 257.1 L199.3 266.4 L188.8 263.7 L181.8 262.4 L174.9 260.3 L167.9 259.4 L160.9 258.2 L153.9 257.1 L147.0 255.9 L140.0 254.7 L133.0 252.9 L128.8 252.9 L120.0 251.9 L111.3 250.7 L104.4 249.8 L97.4 248.9 L90.4 247.2 L79.9 245.4 L70.3 245.4Z" fill="#f0141e" fill-opacity="0.16" stroke="none"/>
<path d="M70.3 239.3 L76.4 240.2 L85.2 241.1 L90.4 241.9 L97.4 243.7 L104.4 244.6 L111.3 245.4 L120.0 247.2 L128.8 248.1 L133.0 248.1 L140.0 249.8 L147.0 251.2 L153.9 252.4 L160.9 253.3 L167.9 254.2 L174.9 255.4 L181.8 256.4 L188.8 256.8 L199.3 257.1" fill="none" stroke="#f0141e" stroke-width="1.2" stroke-linejoin="round"/>
<path d="M70.3 245.4 L79.9 245.4 L90.4 247.2 L97.4 248.9 L104.4 249.8 L111.3 250.7 L120.0 251.9 L128.8 252.9 L133.0 252.9 L140.0 254.7 L147.0 255.9 L153.9 257.1 L160.9 258.2 L167.9 259.4 L174.9 260.3 L181.8 262.4 L188.8 263.7 L199.3 266.4" fill="none" stroke="#f0141e" stroke-width="1.2" stroke-linejoin="round"/>
<path d="M66.0 202.7 L73.0 201.8 L79.9 200.1 L86.9 199.6 L93.9 200.6 L100.9 201.0 L106.1 199.6 L111.3 199.2 L118.3 200.6 L125.3 200.1 L133.0 198.9 L140.0 200.1 L145.2 202.7 L150.4 204.4 L157.4 207.9 L164.4 211.4 L171.4 214.0 L178.4 215.3 L185.3 215.3 L190.6 214.9 L197.5 216.7" fill="none" stroke="#f9c23c" stroke-width="2.2" stroke-linejoin="round"/>
<path d="M66.8 224.5 L76.4 223.6 L83.4 224.5 L93.9 225.4 L104.4 226.2 L111.3 227.1 L118.3 228.9 L125.3 230.6 L133.0 235.0 L140.0 236.7 L147.0 237.9 L153.9 237.6 L160.9 237.6 L167.9 237.2 L174.9 237.6 L181.8 237.9 L188.8 238.5 L197.5 239.3" fill="none" stroke="#fa7d14" stroke-width="2.2" stroke-dasharray="6.5 5" stroke-linejoin="round"/>
<path d="M70.3 242.8 L79.9 242.8 L90.4 245.4 L97.4 246.3 L104.4 247.2 L111.3 248.1 L120.0 249.4 L128.8 250.7 L133.0 250.7 L140.0 252.4 L147.0 253.6 L153.9 255.0 L160.9 255.9 L167.9 256.8 L174.9 257.6 L181.8 259.4 L188.8 260.3 L199.3 261.1" fill="none" stroke="#f0141e" stroke-width="2.2" stroke-dasharray="1.6 4.6 6.4 4.6" stroke-linejoin="round"/>
<rect x="59.00" y="187.70" width="148.80" height="84.60" fill="none" stroke="#333333" stroke-width="1.3"/>
<path d="M219.20 187.70V272.30M235.95 187.70V272.30M252.70 187.70V272.30M269.45 187.70V272.30M286.20 187.70V272.30M302.95 187.70V272.30M319.70 187.70V272.30M336.45 187.70V272.30M353.20 187.70V272.30M213.20 258.40H362.10M213.20 237.67H362.10M213.20 216.94H362.10M213.20 196.20H362.10M213.20 268.77H362.10M213.20 248.04H362.10M213.20 227.30H362.10M213.20 206.57H362.10" stroke="#ebebeb" stroke-width="0.8" fill="none"/>
<path d="M220.0 194.8 L227.0 195.7 L233.9 194.8 L240.9 193.6 L247.9 194.8 L254.9 194.3 L260.1 193.1 L265.3 192.6 L272.3 193.6 L279.3 193.1 L287.0 194.0 L294.0 195.4 L301.0 200.1 L307.9 203.6 L314.9 207.1 L321.9 210.5 L328.9 213.2 L335.8 214.9 L344.6 214.9 L351.5 215.3 L351.5 221.9 L344.6 221.5 L335.8 221.0 L328.9 219.3 L321.9 216.7 L314.9 214.0 L307.9 210.5 L301.0 207.1 L294.0 203.6 L287.0 201.8 L279.3 201.8 L272.3 202.7 L265.3 201.8 L260.1 202.7 L254.9 204.4 L247.9 205.3 L240.9 204.4 L233.9 205.8 L227.0 206.5 L223.5 209.7 L220.0 208.8Z" fill="#f9c23c" fill-opacity="0.16" stroke="none"/>
<path d="M220.0 194.8 L227.0 195.7 L233.9 194.8 L240.9 193.6 L247.9 194.8 L254.9 194.3 L260.1 193.1 L265.3 192.6 L272.3 193.6 L279.3 193.1 L287.0 194.0 L294.0 195.4 L301.0 200.1 L307.9 203.6 L314.9 207.1 L321.9 210.5 L328.9 213.2 L335.8 214.9 L344.6 214.9 L351.5 215.3" fill="none" stroke="#f9c23c" stroke-width="1.2" stroke-linejoin="round"/>
<path d="M220.0 208.8 L223.5 209.7 L227.0 206.5 L233.9 205.8 L240.9 204.4 L247.9 205.3 L254.9 204.4 L260.1 202.7 L265.3 201.8 L272.3 202.7 L279.3 201.8 L287.0 201.8 L294.0 203.6 L301.0 207.1 L307.9 210.5 L314.9 214.0 L321.9 216.7 L328.9 219.3 L335.8 221.0 L344.6 221.5 L351.5 221.9" fill="none" stroke="#f9c23c" stroke-width="1.2" stroke-linejoin="round"/>
<path d="M222.6 217.5 L230.4 217.0 L237.4 218.4 L244.4 219.3 L251.4 218.7 L258.4 219.3 L265.3 220.5 L272.3 222.8 L279.3 225.4 L287.0 231.5 L294.0 235.0 L301.0 237.6 L307.9 237.9 L314.9 237.9 L321.9 238.5 L328.9 239.0 L335.8 239.7 L344.6 240.2 L353.3 240.7 L353.3 248.1 L344.6 246.7 L335.8 246.0 L328.9 244.9 L321.9 244.2 L314.9 243.7 L307.9 243.2 L301.0 242.8 L294.0 240.2 L287.0 237.6 L281.0 235.0 L272.3 232.0 L265.3 229.7 L256.6 228.0 L247.9 228.5 L239.2 228.0 L230.4 227.5 L222.6 228.9Z" fill="#fa7d14" fill-opacity="0.16" stroke="none"/>
<path d="M222.6 217.5 L230.4 217.0 L237.4 218.4 L244.4 219.3 L251.4 218.7 L258.4 219.3 L265.3 220.5 L272.3 222.8 L279.3 225.4 L287.0 231.5 L294.0 235.0 L301.0 237.6 L307.9 237.9 L314.9 237.9 L321.9 238.5 L328.9 239.0 L335.8 239.7 L344.6 240.2 L353.3 240.7" fill="none" stroke="#fa7d14" stroke-width="1.2" stroke-linejoin="round"/>
<path d="M222.6 228.9 L230.4 227.5 L239.2 228.0 L247.9 228.5 L256.6 228.0 L265.3 229.7 L272.3 232.0 L281.0 235.0 L287.0 237.6 L294.0 240.2 L301.0 242.8 L307.9 243.2 L314.9 243.7 L321.9 244.2 L328.9 244.9 L335.8 246.0 L344.6 246.7 L353.3 248.1" fill="none" stroke="#fa7d14" stroke-width="1.2" stroke-linejoin="round"/>
<path d="M224.3 240.2 L233.9 240.7 L242.7 241.4 L251.4 241.4 L260.1 241.9 L268.8 242.8 L277.5 244.2 L287.0 247.2 L294.0 249.8 L301.0 252.4 L307.9 254.2 L314.9 255.9 L321.9 256.8 L328.9 257.6 L335.8 258.2 L344.6 259.4 L353.3 260.3 L353.3 267.6 L344.6 266.4 L335.8 264.6 L328.9 263.4 L321.9 262.0 L314.9 261.1 L307.9 259.4 L301.0 257.6 L294.0 255.0 L287.0 252.9 L277.5 249.8 L268.8 248.1 L260.1 246.3 L251.4 246.3 L242.7 246.0 L233.9 245.4 L224.3 246.0Z" fill="#f0141e" fill-opacity="0.16" stroke="none"/>
<path d="M224.3 240.2 L233.9 240.7 L242.7 241.4 L251.4 241.4 L260.1 241.9 L268.8 242.8 L277.5 244.2 L287.0 247.2 L294.0 249.8 L301.0 252.4 L307.9 254.2 L314.9 255.9 L321.9 256.8 L328.9 257.6 L335.8 258.2 L344.6 259.4 L353.3 260.3" fill="none" stroke="#f0141e" stroke-width="1.2" stroke-linejoin="round"/>
<path d="M224.3 246.0 L233.9 245.4 L242.7 246.0 L251.4 246.3 L260.1 246.3 L268.8 248.1 L277.5 249.8 L287.0 252.9 L294.0 255.0 L301.0 257.6 L307.9 259.4 L314.9 261.1 L321.9 262.0 L328.9 263.4 L335.8 264.6 L344.6 266.4 L353.3 267.6" fill="none" stroke="#f0141e" stroke-width="1.2" stroke-linejoin="round"/>
<path d="M220.0 201.8 L227.0 201.0 L233.9 200.1 L240.9 199.2 L247.9 200.1 L254.9 199.2 L260.1 197.5 L265.3 197.5 L272.3 198.3 L279.3 197.5 L287.0 197.8 L294.0 199.6 L301.0 203.6 L307.9 207.1 L314.9 210.5 L321.9 213.2 L328.9 215.8 L335.8 218.0 L344.6 218.4 L351.5 218.4" fill="none" stroke="#f9c23c" stroke-width="2.2" stroke-linejoin="round"/>
<path d="M222.6 223.3 L230.4 222.8 L239.2 223.6 L247.9 224.0 L256.6 223.6 L265.3 225.4 L272.3 227.5 L281.0 230.6 L287.0 235.0 L294.0 237.6 L301.0 240.2 L307.9 240.7 L314.9 240.7 L321.9 241.1 L328.9 241.9 L335.8 242.8 L344.6 243.2 L353.3 243.7" fill="none" stroke="#fa7d14" stroke-width="2.2" stroke-dasharray="6.5 5" stroke-linejoin="round"/>
<path d="M224.3 243.2 L233.9 243.2 L242.7 243.7 L251.4 243.7 L260.1 244.2 L268.8 245.4 L277.5 247.2 L287.0 249.8 L294.0 252.4 L301.0 255.0 L307.9 256.8 L314.9 258.5 L321.9 259.4 L328.9 260.3 L335.8 261.1 L344.6 262.0 L353.3 263.4" fill="none" stroke="#f0141e" stroke-width="2.2" stroke-dasharray="1.6 4.6 6.4 4.6" stroke-linejoin="round"/>
<rect x="213.20" y="187.70" width="148.90" height="84.60" fill="none" stroke="#333333" stroke-width="1.3"/>
<path d="M410.60 187.70V272.30M426.60 187.70V272.30M442.60 187.70V272.30M458.60 187.70V272.30M474.60 187.70V272.30M490.60 187.70V272.30M506.60 187.70V272.30M522.60 187.70V272.30M538.60 187.70V272.30M407.50 261.95H545.00M407.50 245.80H545.00M407.50 229.65H545.00M407.50 213.50H545.00M407.50 197.35H545.00M407.50 270.02H545.00M407.50 253.88H545.00M407.50 237.72H545.00M407.50 221.58H545.00M407.50 205.42H545.00M407.50 189.28H545.00" stroke="#ebebeb" stroke-width="0.8" fill="none"/>
<path d="M407.5 213.50H545" stroke="#1a1a1a" stroke-width="1.3" stroke-dasharray="5.5 3.71" stroke-dashoffset="1.1"/>
<path d="M413.6 211.4 L421.0 211.8 L428.0 211.4 L434.9 211.1 L441.9 210.6 L448.9 210.0 L455.9 209.7 L462.9 209.7 L469.8 210.6 L476.0 211.8 L483.0 212.8 L490.0 213.5 L496.9 214.1 L503.9 214.6 L510.9 214.9 L517.9 215.3 L524.9 216.3 L531.9 217.0 L538.0 217.0" fill="none" stroke="#f9c23c" stroke-width="2.4" stroke-linejoin="round"/>
<path d="M413.6 212.3 L421.0 212.8 L428.0 211.8 L434.9 211.1 L441.9 210.0 L448.9 208.8 L455.9 208.8 L462.9 209.3 L469.8 210.0 L476.0 212.8 L483.0 214.9 L490.0 217.0 L496.9 218.1 L503.9 219.8 L510.9 221.6 L517.9 222.8 L524.9 222.8 L531.9 223.7 L538.0 222.8" fill="none" stroke="#fa7d14" stroke-width="2.4" stroke-dasharray="6.5 5" stroke-linejoin="round"/>
<path d="M413.6 213.2 L421.0 214.1 L428.0 213.2 L434.9 211.8 L441.9 209.7 L448.9 208.3 L454.1 207.6 L461.1 206.2 L466.3 207.6 L471.6 209.7 L476.0 213.2 L481.2 216.7 L486.5 218.4 L491.7 221.0 L496.9 222.8 L502.2 223.7 L505.7 225.1 L510.9 222.8 L517.9 221.9 L523.1 222.8 L528.4 221.9 L531.9 223.7 L538.0 220.2" fill="none" stroke="#f0141e" stroke-width="2.4" stroke-dasharray="1.6 4.6 6.4 4.6" stroke-linejoin="round"/>
<rect x="407.50" y="187.70" width="137.50" height="84.60" fill="none" stroke="#333333" stroke-width="1.3"/>
<rect x="39.50" y="187.70" width="19.50" height="84.60" fill="#d9d9d9" stroke="#333333" stroke-width="1.3"/>
<text transform="translate(52.55,230.00) rotate(-90)" text-anchor="middle" font-family="Liberation Sans, sans-serif" font-size="9.4" fill="#1a1a1a" stroke="#1a1a1a" stroke-width="0.35">LowTempLue</text>
<path d="M37.2 258.40H39.5" stroke="#333333" stroke-width="1.1"/>
<text transform="translate(34.8,262.70) scale(0.9,1)" text-anchor="end" font-family="Liberation Sans, sans-serif" font-size="10.6" fill="#4d4d4d" stroke="#4d4d4d" stroke-width="0.15">15</text>
<path d="M37.2 237.67H39.5" stroke="#333333" stroke-width="1.1"/>
<text transform="translate(34.8,241.97) scale(0.9,1)" text-anchor="end" font-family="Liberation Sans, sans-serif" font-size="10.6" fill="#4d4d4d" stroke="#4d4d4d" stroke-width="0.15">20</text>
<path d="M37.2 216.94H39.5" stroke="#333333" stroke-width="1.1"/>
<text transform="translate(34.8,221.24) scale(0.9,1)" text-anchor="end" font-family="Liberation Sans, sans-serif" font-size="10.6" fill="#4d4d4d" stroke="#4d4d4d" stroke-width="0.15">25</text>
<path d="M37.2 196.20H39.5" stroke="#333333" stroke-width="1.1"/>
<text transform="translate(34.8,200.50) scale(0.9,1)" text-anchor="end" font-family="Liberation Sans, sans-serif" font-size="10.6" fill="#4d4d4d" stroke="#4d4d4d" stroke-width="0.15">30</text>
<path d="M405.2 261.95H407.5" stroke="#333333" stroke-width="1.1"/>
<text transform="translate(401.6,266.25) scale(0.9,1)" text-anchor="end" font-family="Liberation Sans, sans-serif" font-size="10.6" fill="#4d4d4d" stroke="#4d4d4d" stroke-width="0.15">0.7</text>
<path d="M405.2 245.80H407.5" stroke="#333333" stroke-width="1.1"/>
<text transform="translate(401.6,250.10) scale(0.9,1)" text-anchor="end" font-family="Liberation Sans, sans-serif" font-size="10.6" fill="#4d4d4d" stroke="#4d4d4d" stroke-width="0.15">0.8</text>
<path d="M405.2 229.65H407.5" stroke="#333333" stroke-width="1.1"/>
<text transform="translate(401.6,233.95) scale(0.9,1)" text-anchor="end" font-family="Liberation Sans, sans-serif" font-size="10.6" fill="#4d4d4d" stroke="#4d4d4d" stroke-width="0.15">0.9</text>
<path d="M405.2 213.50H407.5" stroke="#333333" stroke-width="1.1"/>
<text transform="translate(401.6,217.80) scale(0.9,1)" text-anchor="end" font-family="Liberation Sans, sans-serif" font-size="10.6" fill="#4d4d4d" stroke="#4d4d4d" stroke-width="0.15">1.0</text>
<path d="M405.2 197.35H407.5" stroke="#333333" stroke-width="1.1"/>
<text transform="translate(401.6,201.65) scale(0.9,1)" text-anchor="end" font-family="Liberation Sans, sans-serif" font-size="10.6" fill="#4d4d4d" stroke="#4d4d4d" stroke-width="0.15">1.1</text>
<text x="5.2" y="203.3" font-family="Liberation Sans, sans-serif" font-size="22.8" fill="#000" stroke="#000" stroke-width="0.25">C</text>
<path d="M64.60 278.50V362.40M81.30 278.50V362.40M98.00 278.50V362.40M114.70 278.50V362.40M131.40 278.50V362.40M148.10 278.50V362.40M164.80 278.50V362.40M181.50 278.50V362.40M198.20 278.50V362.40M59.00 345.58H207.80M59.00 322.14H207.80M59.00 298.70H207.80M59.00 357.30H207.80M59.00 333.86H207.80M59.00 310.42H207.80M59.00 286.98H207.80" stroke="#ebebeb" stroke-width="0.8" fill="none"/>
<path d="M65.3 342.4 L72.9 342.9 L79.4 344.8 L86.0 346.5 L92.5 347.9 L99.1 349.0 L105.0 349.0 L109.4 350.5 L112.3 350.8 L115.9 346.8 L119.5 343.5 L123.2 341.7 L126.8 340.3 L130.5 339.2 L134.1 337.8 L137.7 336.5 L141.0 335.0 L144.0 333.8 L147.3 332.4 L150.9 332.4 L154.5 333.8 L158.2 334.9 L165.5 334.9 L172.7 334.9 L180.0 335.6 L185.3 334.8 L192.3 334.0 L197.5 334.7 L197.5 345.2 L192.3 343.4 L185.3 342.8 L180.0 343.3 L176.4 342.5 L172.7 342.2 L169.1 341.8 L165.5 342.5 L158.2 342.5 L154.5 341.8 L150.9 340.0 L147.3 339.3 L144.0 340.3 L141.0 342.0 L137.7 344.0 L134.1 345.4 L130.5 346.3 L126.8 346.8 L123.2 348.3 L119.5 350.1 L115.9 353.0 L112.3 356.3 L109.4 355.5 L105.0 354.5 L99.1 354.6 L92.5 353.5 L86.0 352.2 L79.4 350.8 L72.9 349.7 L65.3 350.8Z" fill="#f9c23c" fill-opacity="0.16" stroke="none"/>
<path d="M65.3 342.4 L72.9 342.9 L79.4 344.8 L86.0 346.5 L92.5 347.9 L99.1 349.0 L105.0 349.0 L109.4 350.5 L112.3 350.8 L115.9 346.8 L119.5 343.5 L123.2 341.7 L126.8 340.3 L130.5 339.2 L134.1 337.8 L137.7 336.5 L141.0 335.0 L144.0 333.8 L147.3 332.4 L150.9 332.4 L154.5 333.8 L158.2 334.9 L165.5 334.9 L172.7 334.9 L180.0 335.6 L185.3 334.8 L192.3 334.0 L197.5 334.7" fill="none" stroke="#f9c23c" stroke-width="1.2" stroke-linejoin="round"/>
<path d="M65.3 350.8 L72.9 349.7 L79.4 350.8 L86.0 352.2 L92.5 353.5 L99.1 354.6 L105.0 354.5 L109.4 355.5 L112.3 356.3 L115.9 353.0 L119.5 350.1 L123.2 348.3 L126.8 346.8 L130.5 346.3 L134.1 345.4 L137.7 344.0 L141.0 342.0 L144.0 340.3 L147.3 339.3 L150.9 340.0 L154.5 341.8 L158.2 342.5 L165.5 342.5 L169.1 341.8 L172.7 342.2 L176.4 342.5 L180.0 343.3 L185.3 342.8 L192.3 343.4 L197.5 345.2" fill="none" stroke="#f9c23c" stroke-width="1.2" stroke-linejoin="round"/>
<path d="M66.8 322.5 L76.4 322.5 L85.2 323.0 L93.9 322.5 L100.0 323.5 L105.0 324.1 L110.5 324.6 L115.9 325.2 L121.4 324.6 L126.8 324.1 L132.3 323.5 L137.7 323.5 L143.2 322.4 L148.6 320.3 L154.1 318.6 L159.5 317.5 L165.0 316.5 L167.9 315.5 L174.9 314.6 L181.8 313.8 L188.8 312.0 L194.0 310.3 L198.4 308.5 L198.4 325.4 L192.3 324.7 L185.3 325.1 L178.4 326.0 L171.4 326.8 L165.0 326.8 L159.5 327.4 L154.1 327.4 L148.6 328.4 L143.2 330.6 L137.7 331.2 L132.3 331.7 L126.8 332.3 L121.4 334.4 L115.9 336.6 L110.5 335.5 L105.0 334.4 L100.0 333.0 L93.9 331.2 L85.2 331.2 L76.4 331.2 L66.8 332.9Z" fill="#fa7d14" fill-opacity="0.16" stroke="none"/>
<path d="M66.8 322.5 L76.4 322.5 L85.2 323.0 L93.9 322.5 L100.0 323.5 L105.0 324.1 L110.5 324.6 L115.9 325.2 L121.4 324.6 L126.8 324.1 L132.3 323.5 L137.7 323.5 L143.2 322.4 L148.6 320.3 L154.1 318.6 L159.5 317.5 L165.0 316.5 L167.9 315.5 L174.9 314.6 L181.8 313.8 L188.8 312.0 L194.0 310.3 L198.4 308.5" fill="none" stroke="#fa7d14" stroke-width="1.2" stroke-linejoin="round"/>
<path d="M66.8 332.9 L76.4 331.2 L85.2 331.2 L93.9 331.2 L100.0 333.0 L105.0 334.4 L110.5 335.5 L115.9 336.6 L121.4 334.4 L126.8 332.3 L132.3 331.7 L137.7 331.2 L143.2 330.6 L148.6 328.4 L154.1 327.4 L159.5 327.4 L165.0 326.8 L171.4 326.8 L178.4 326.0 L185.3 325.1 L192.3 324.7 L198.4 325.4" fill="none" stroke="#fa7d14" stroke-width="1.2" stroke-linejoin="round"/>
<path d="M70.3 300.7 L72.1 297.2 L76.4 297.2 L81.7 298.9 L86.9 296.3 L93.9 293.7 L100.9 291.1 L106.1 289.3 L111.3 292.0 L116.6 288.5 L123.5 287.6 L128.8 285.8 L133.0 285.3 L140.0 286.7 L147.0 287.6 L152.2 292.0 L155.7 291.1 L160.0 288.5 L167.9 290.2 L174.9 291.6 L180.1 294.6 L185.3 292.8 L192.3 292.0 L197.5 295.4 L200.2 299.8 L200.2 315.5 L195.8 310.3 L192.3 307.7 L185.3 306.8 L178.4 305.9 L171.4 305.0 L164.4 304.2 L157.4 305.0 L152.2 305.9 L147.0 304.2 L140.0 302.4 L133.0 299.8 L128.8 301.5 L123.5 302.4 L116.6 304.2 L111.3 308.5 L106.1 305.0 L100.9 305.0 L93.9 308.5 L88.7 311.1 L83.4 313.8 L76.4 312.9 L72.1 313.8 L69.5 320.7Z" fill="#f0141e" fill-opacity="0.16" stroke="none"/>
<path d="M70.3 300.7 L72.1 297.2 L76.4 297.2 L81.7 298.9 L86.9 296.3 L93.9 293.7 L100.9 291.1 L106.1 289.3 L111.3 292.0 L116.6 288.5 L123.5 287.6 L128.8 285.8 L133.0 285.3 L140.0 286.7 L147.0 287.6 L152.2 292.0 L155.7 291.1 L160.0 288.5 L167.9 290.2 L174.9 291.6 L180.1 294.6 L185.3 292.8 L192.3 292.0 L197.5 295.4 L200.2 299.8" fill="none" stroke="#f0141e" stroke-width="1.2" stroke-linejoin="round"/>
<path d="M69.5 320.7 L72.1 313.8 L76.4 312.9 L83.4 313.8 L88.7 311.1 L93.9 308.5 L100.9 305.0 L106.1 305.0 L111.3 308.5 L116.6 304.2 L123.5 302.4 L128.8 301.5 L133.0 299.8 L140.0 302.4 L147.0 304.2 L152.2 305.9 L157.4 305.0 L164.4 304.2 L171.4 305.0 L178.4 305.9 L185.3 306.8 L192.3 307.7 L195.8 310.3 L200.2 315.5" fill="none" stroke="#f0141e" stroke-width="1.2" stroke-linejoin="round"/>
<path d="M65.3 346.5 L72.9 346.8 L79.4 347.9 L86.0 349.2 L92.5 350.3 L99.1 351.4 L105.0 351.9 L109.4 353.0 L112.3 353.7 L115.9 350.1 L119.5 346.8 L123.2 345.0 L126.8 343.3 L130.5 342.5 L134.1 341.3 L137.7 339.8 L141.0 338.2 L144.0 336.7 L147.3 335.6 L150.9 336.4 L154.5 337.8 L158.2 338.5 L165.5 338.8 L169.1 337.8 L172.7 338.0 L176.4 338.9 L180.0 339.6 L185.3 339.3 L192.3 339.2 L197.5 339.9" fill="none" stroke="#f9c23c" stroke-width="2.2" stroke-linejoin="round"/>
<path d="M66.8 327.7 L76.4 326.8 L85.2 326.8 L93.9 326.5 L100.0 327.5 L105.0 328.4 L110.5 330.6 L115.9 331.2 L121.4 329.5 L126.8 327.9 L132.3 327.4 L137.7 327.4 L143.2 326.8 L148.6 324.1 L154.1 322.4 L159.5 323.0 L165.0 322.4 L174.9 320.7 L181.8 319.5 L188.8 318.5 L198.4 317.2" fill="none" stroke="#fa7d14" stroke-width="2.2" stroke-dasharray="6.5 5" stroke-linejoin="round"/>
<path d="M70.3 312.0 L73.0 305.9 L76.4 305.0 L81.7 306.8 L86.9 305.0 L93.9 300.7 L100.9 297.2 L106.1 296.3 L111.3 299.8 L116.6 294.6 L123.5 294.6 L128.8 293.7 L133.0 293.3 L140.0 294.6 L147.0 295.4 L152.2 298.6 L157.4 298.1 L164.4 296.3 L171.4 297.2 L178.4 299.8 L185.3 300.7 L192.3 299.8 L197.5 304.2 L200.2 309.4" fill="none" stroke="#f0141e" stroke-width="2.2" stroke-dasharray="1.6 4.6 6.4 4.6" stroke-linejoin="round"/>
<rect x="59.00" y="278.50" width="148.80" height="83.90" fill="none" stroke="#333333" stroke-width="1.3"/>
<path d="M219.20 278.50V362.40M235.95 278.50V362.40M252.70 278.50V362.40M269.45 278.50V362.40M286.20 278.50V362.40M302.95 278.50V362.40M319.70 278.50V362.40M336.45 278.50V362.40M353.20 278.50V362.40M213.20 345.58H362.10M213.20 322.14H362.10M213.20 298.70H362.10M213.20 357.30H362.10M213.20 333.86H362.10M213.20 310.42H362.10M213.20 286.98H362.10" stroke="#ebebeb" stroke-width="0.8" fill="none"/>
<path d="M220.0 342.5 L230.4 343.9 L239.2 345.2 L247.9 346.4 L256.6 347.4 L263.6 348.6 L268.8 346.4 L274.0 343.9 L281.0 342.5 L287.0 340.8 L294.0 339.9 L301.0 339.0 L306.2 339.0 L309.7 342.5 L316.7 344.3 L323.6 345.2 L330.6 346.0 L337.6 346.9 L344.6 346.0 L351.5 345.2 L351.5 358.6 L344.6 356.1 L337.6 354.7 L330.6 353.4 L323.6 352.7 L316.7 351.3 L309.7 349.5 L306.2 344.6 L301.0 344.3 L294.0 346.0 L287.0 347.4 L281.0 348.1 L274.0 350.4 L268.8 352.7 L263.6 355.6 L256.6 354.4 L247.9 352.7 L239.2 351.3 L230.4 350.4 L220.0 349.5Z" fill="#f9c23c" fill-opacity="0.16" stroke="none"/>
<path d="M220.0 342.5 L230.4 343.9 L239.2 345.2 L247.9 346.4 L256.6 347.4 L263.6 348.6 L268.8 346.4 L274.0 343.9 L281.0 342.5 L287.0 340.8 L294.0 339.9 L301.0 339.0 L306.2 339.0 L309.7 342.5 L316.7 344.3 L323.6 345.2 L330.6 346.0 L337.6 346.9 L344.6 346.0 L351.5 345.2" fill="none" stroke="#f9c23c" stroke-width="1.2" stroke-linejoin="round"/>
<path d="M220.0 349.5 L230.4 350.4 L239.2 351.3 L247.9 352.7 L256.6 354.4 L263.6 355.6 L268.8 352.7 L274.0 350.4 L281.0 348.1 L287.0 347.4 L294.0 346.0 L301.0 344.3 L306.2 344.6 L309.7 349.5 L316.7 351.3 L323.6 352.7 L330.6 353.4 L337.6 354.7 L344.6 356.1 L351.5 358.6" fill="none" stroke="#f9c23c" stroke-width="1.2" stroke-linejoin="round"/>
<path d="M222.6 324.2 L230.4 322.5 L239.2 321.6 L247.9 319.9 L256.6 318.5 L263.6 318.5 L268.8 319.9 L275.8 321.6 L282.8 322.5 L287.0 323.4 L294.0 323.7 L301.0 323.7 L307.9 323.4 L314.9 323.0 L321.9 324.7 L328.9 326.8 L335.8 327.7 L342.8 326.0 L349.8 324.2 L354.2 322.5 L354.2 342.5 L349.8 342.2 L342.8 342.2 L335.8 341.7 L328.9 340.8 L321.9 338.2 L314.9 335.6 L307.9 334.7 L301.0 335.2 L294.0 335.6 L287.0 334.7 L282.8 335.2 L275.8 333.8 L268.8 331.2 L263.6 330.0 L256.6 329.5 L247.9 330.0 L239.2 331.2 L230.4 333.8 L222.6 335.6Z" fill="#fa7d14" fill-opacity="0.16" stroke="none"/>
<path d="M222.6 324.2 L230.4 322.5 L239.2 321.6 L247.9 319.9 L256.6 318.5 L263.6 318.5 L268.8 319.9 L275.8 321.6 L282.8 322.5 L287.0 323.4 L294.0 323.7 L301.0 323.7 L307.9 323.4 L314.9 323.0 L321.9 324.7 L328.9 326.8 L335.8 327.7 L342.8 326.0 L349.8 324.2 L354.2 322.5" fill="none" stroke="#fa7d14" stroke-width="1.2" stroke-linejoin="round"/>
<path d="M222.6 335.6 L230.4 333.8 L239.2 331.2 L247.9 330.0 L256.6 329.5 L263.6 330.0 L268.8 331.2 L275.8 333.8 L282.8 335.2 L287.0 334.7 L294.0 335.6 L301.0 335.2 L307.9 334.7 L314.9 335.6 L321.9 338.2 L328.9 340.8 L335.8 341.7 L342.8 342.2 L349.8 342.2 L354.2 342.5" fill="none" stroke="#fa7d14" stroke-width="1.2" stroke-linejoin="round"/>
<path d="M224.3 301.5 L226.1 298.1 L232.2 298.1 L237.4 299.8 L242.7 296.3 L247.9 292.8 L254.9 290.2 L260.1 286.7 L265.3 287.6 L270.6 284.1 L275.8 282.4 L281.0 284.1 L287.0 286.7 L292.2 292.0 L299.2 295.4 L304.4 298.1 L309.7 304.2 L316.7 302.4 L323.6 302.4 L328.9 301.5 L335.8 304.2 L342.8 303.3 L349.8 305.0 L354.2 307.7 L354.2 327.7 L349.8 325.1 L344.6 323.4 L337.6 322.5 L330.6 321.6 L323.6 320.7 L316.7 319.0 L309.7 319.9 L304.4 315.5 L299.2 313.8 L292.2 310.3 L287.0 307.7 L282.8 299.8 L275.8 298.1 L270.6 299.8 L265.3 304.2 L260.1 299.8 L254.9 303.3 L249.6 307.7 L244.4 311.1 L239.2 313.8 L232.2 313.8 L226.1 315.5 L224.3 322.5Z" fill="#f0141e" fill-opacity="0.16" stroke="none"/>
<path d="M224.3 301.5 L226.1 298.1 L232.2 298.1 L237.4 299.8 L242.7 296.3 L247.9 292.8 L254.9 290.2 L260.1 286.7 L265.3 287.6 L270.6 284.1 L275.8 282.4 L281.0 284.1 L287.0 286.7 L292.2 292.0 L299.2 295.4 L304.4 298.1 L309.7 304.2 L316.7 302.4 L323.6 302.4 L328.9 301.5 L335.8 304.2 L342.8 303.3 L349.8 305.0 L354.2 307.7" fill="none" stroke="#f0141e" stroke-width="1.2" stroke-linejoin="round"/>
<path d="M224.3 322.5 L226.1 315.5 L232.2 313.8 L239.2 313.8 L244.4 311.1 L249.6 307.7 L254.9 303.3 L260.1 299.8 L265.3 304.2 L270.6 299.8 L275.8 298.1 L282.8 299.8 L287.0 307.7 L292.2 310.3 L299.2 313.8 L304.4 315.5 L309.7 319.9 L316.7 319.0 L323.6 320.7 L330.6 321.6 L337.6 322.5 L344.6 323.4 L349.8 325.1 L354.2 327.7" fill="none" stroke="#f0141e" stroke-width="1.2" stroke-linejoin="round"/>
<path d="M220.0 346.0 L230.4 346.9 L239.2 348.1 L247.9 349.5 L256.6 350.9 L263.6 352.1 L268.8 349.5 L274.0 347.4 L281.0 345.2 L287.0 343.9 L294.0 342.9 L301.0 341.7 L306.2 341.7 L309.7 346.0 L316.7 347.8 L323.6 348.6 L330.6 349.5 L337.6 350.9 L344.6 351.3 L351.5 352.1" fill="none" stroke="#f9c23c" stroke-width="2.2" stroke-linejoin="round"/>
<path d="M222.6 330.0 L230.4 328.6 L239.2 326.5 L247.9 325.1 L256.6 323.7 L263.6 324.2 L268.8 325.4 L275.8 327.7 L282.8 328.9 L287.0 329.5 L294.0 330.3 L301.0 329.5 L307.9 328.9 L314.9 329.5 L321.9 331.2 L328.9 333.8 L335.8 334.2 L342.8 333.0 L349.8 332.1 L354.2 331.7" fill="none" stroke="#fa7d14" stroke-width="2.2" stroke-dasharray="6.5 5" stroke-linejoin="round"/>
<path d="M224.3 313.8 L227.0 306.8 L232.2 305.9 L237.4 305.9 L242.7 304.2 L247.9 299.8 L254.9 294.6 L260.1 292.8 L265.3 295.4 L270.6 292.0 L275.8 290.2 L282.8 292.8 L287.0 297.2 L292.2 300.7 L299.2 305.0 L304.4 307.7 L309.7 310.3 L316.7 311.1 L323.6 312.0 L330.6 311.1 L337.6 312.0 L344.6 312.9 L349.8 314.6 L354.2 318.1" fill="none" stroke="#f0141e" stroke-width="2.2" stroke-dasharray="1.6 4.6 6.4 4.6" stroke-linejoin="round"/>
<rect x="213.20" y="278.50" width="148.90" height="83.90" fill="none" stroke="#333333" stroke-width="1.3"/>
<path d="M410.60 278.50V362.40M426.60 278.50V362.40M442.60 278.50V362.40M458.60 278.50V362.40M474.60 278.50V362.40M490.60 278.50V362.40M506.60 278.50V362.40M522.60 278.50V362.40M538.60 278.50V362.40M407.50 352.25H545.00M407.50 336.10H545.00M407.50 319.95H545.00M407.50 303.80H545.00M407.50 287.65H545.00M407.50 360.32H545.00M407.50 344.18H545.00M407.50 328.03H545.00M407.50 311.88H545.00M407.50 295.73H545.00M407.50 279.58H545.00" stroke="#ebebeb" stroke-width="0.8" fill="none"/>
<path d="M407.5 303.80H545" stroke="#1a1a1a" stroke-width="1.3" stroke-dasharray="5.5 3.71" stroke-dashoffset="1.1"/>
<path d="M413.6 305.1 L421.0 304.2 L428.0 303.8 L434.9 302.4 L441.9 300.7 L448.9 299.8 L454.1 299.8 L459.4 301.0 L464.6 303.3 L469.8 305.9 L477.0 312.0 L483.0 316.4 L490.0 319.9 L496.9 322.5 L503.9 325.1 L510.9 326.9 L517.9 329.0 L524.9 331.2 L531.9 331.2 L538.0 331.2" fill="none" stroke="#f9c23c" stroke-width="2.4" stroke-linejoin="round"/>
<path d="M413.6 306.8 L417.5 307.7 L421.0 309.4 L424.5 306.8 L431.4 303.3 L438.4 299.8 L445.4 296.3 L450.6 293.7 L455.0 291.6 L459.4 292.8 L462.9 294.6 L468.1 298.1 L473.3 303.3 L477.0 306.8 L483.0 309.4 L490.0 312.0 L496.9 314.7 L503.9 317.3 L509.2 319.9 L514.4 323.7 L521.4 327.7 L526.6 328.6 L531.9 329.5 L538.0 330.4" fill="none" stroke="#fa7d14" stroke-width="2.4" stroke-dasharray="6.5 5" stroke-linejoin="round"/>
<path d="M413.6 304.2 L417.5 303.3 L422.7 305.9 L428.0 305.1 L434.9 302.4 L441.9 300.3 L448.9 298.6 L454.1 297.5 L459.4 298.6 L464.6 300.3 L469.8 303.3 L475.1 306.8 L477.0 308.5 L483.0 314.7 L490.0 319.0 L496.9 322.5 L503.9 325.1 L509.2 324.3 L512.7 320.8 L517.9 320.8 L523.1 321.6 L528.4 322.5 L533.6 321.6 L538.0 319.0" fill="none" stroke="#f0141e" stroke-width="2.4" stroke-dasharray="1.6 4.6 6.4 4.6" stroke-linejoin="round"/>
<rect x="407.50" y="278.50" width="137.50" height="83.90" fill="none" stroke="#333333" stroke-width="1.3"/>
<rect x="39.50" y="278.50" width="19.50" height="83.90" fill="#d9d9d9" stroke="#333333" stroke-width="1.3"/>
<text transform="translate(52.55,320.45) rotate(-90)" text-anchor="middle" font-family="Liberation Sans, sans-serif" font-size="9.4" fill="#1a1a1a" stroke="#1a1a1a" stroke-width="0.35">HighTempLue</text>
<path d="M37.2 345.58H39.5" stroke="#333333" stroke-width="1.1"/>
<text transform="translate(34.8,349.88) scale(0.9,1)" text-anchor="end" font-family="Liberation Sans, sans-serif" font-size="10.6" fill="#4d4d4d" stroke="#4d4d4d" stroke-width="0.15">1.2</text>
<path d="M37.2 322.14H39.5" stroke="#333333" stroke-width="1.1"/>
<text transform="translate(34.8,326.44) scale(0.9,1)" text-anchor="end" font-family="Liberation Sans, sans-serif" font-size="10.6" fill="#4d4d4d" stroke="#4d4d4d" stroke-width="0.15">1.6</text>
<path d="M37.2 298.70H39.5" stroke="#333333" stroke-width="1.1"/>
<text transform="translate(34.8,303.00) scale(0.9,1)" text-anchor="end" font-family="Liberation Sans, sans-serif" font-size="10.6" fill="#4d4d4d" stroke="#4d4d4d" stroke-width="0.15">2.0</text>
<path d="M405.2 352.25H407.5" stroke="#333333" stroke-width="1.1"/>
<text transform="translate(401.6,356.55) scale(0.9,1)" text-anchor="end" font-family="Liberation Sans, sans-serif" font-size="10.6" fill="#4d4d4d" stroke="#4d4d4d" stroke-width="0.15">0.7</text>
<path d="M405.2 336.10H407.5" stroke="#333333" stroke-width="1.1"/>
<text transform="translate(401.6,340.40) scale(0.9,1)" text-anchor="end" font-family="Liberation Sans, sans-serif" font-size="10.6" fill="#4d4d4d" stroke="#4d4d4d" stroke-width="0.15">0.8</text>
<path d="M405.2 319.95H407.5" stroke="#333333" stroke-width="1.1"/>
<text transform="translate(401.6,324.25) scale(0.9,1)" text-anchor="end" font-family="Liberation Sans, sans-serif" font-size="10.6" fill="#4d4d4d" stroke="#4d4d4d" stroke-width="0.15">0.9</text>
<path d="M405.2 303.80H407.5" stroke="#333333" stroke-width="1.1"/>
<text transform="translate(401.6,308.10) scale(0.9,1)" text-anchor="end" font-family="Liberation Sans, sans-serif" font-size="10.6" fill="#4d4d4d" stroke="#4d4d4d" stroke-width="0.15">1.0</text>
<path d="M405.2 287.65H407.5" stroke="#333333" stroke-width="1.1"/>
<text transform="translate(401.6,291.95) scale(0.9,1)" text-anchor="end" font-family="Liberation Sans, sans-serif" font-size="10.6" fill="#4d4d4d" stroke="#4d4d4d" stroke-width="0.15">1.1</text>
<text x="5.4" y="295.6" font-family="Liberation Sans, sans-serif" font-size="22.8" fill="#000" stroke="#000" stroke-width="0.25">D</text>
<path d="M64.60 369.50V454.30M81.30 369.50V454.30M98.00 369.50V454.30M114.70 369.50V454.30M131.40 369.50V454.30M148.10 369.50V454.30M164.80 369.50V454.30M181.50 369.50V454.30M198.20 369.50V454.30M59.00 446.96H207.80M59.00 430.72H207.80M59.00 414.48H207.80M59.00 398.24H207.80M59.00 382.00H207.80M59.00 438.84H207.80M59.00 422.60H207.80M59.00 406.36H207.80M59.00 390.12H207.80M59.00 373.88H207.80" stroke="#ebebeb" stroke-width="0.8" fill="none"/>
<path d="M66.0 424.0 L76.4 424.8 L85.2 425.7 L93.9 427.4 L102.6 429.2 L111.3 430.9 L116.6 426.6 L123.5 422.2 L128.8 419.6 L133.0 418.7 L140.0 414.7 L147.0 411.7 L150.4 410.0 L157.4 412.3 L164.4 411.7 L171.4 412.6 L178.4 413.0 L185.3 412.3 L192.3 411.2 L197.5 410.9 L197.5 420.5 L192.3 420.5 L185.3 421.0 L178.4 421.3 L171.4 421.3 L164.4 421.0 L157.4 420.5 L150.4 418.7 L147.0 419.9 L140.0 423.1 L133.0 426.6 L128.8 428.3 L123.5 430.9 L116.6 435.3 L111.3 438.8 L102.6 437.4 L93.9 436.2 L85.2 434.9 L76.4 433.9 L66.0 433.5Z" fill="#f9c23c" fill-opacity="0.16" stroke="none"/>
<path d="M66.0 424.0 L76.4 424.8 L85.2 425.7 L93.9 427.4 L102.6 429.2 L111.3 430.9 L116.6 426.6 L123.5 422.2 L128.8 419.6 L133.0 418.7 L140.0 414.7 L147.0 411.7 L150.4 410.0 L157.4 412.3 L164.4 411.7 L171.4 412.6 L178.4 413.0 L185.3 412.3 L192.3 411.2 L197.5 410.9" fill="none" stroke="#f9c23c" stroke-width="1.2" stroke-linejoin="round"/>
<path d="M66.0 433.5 L76.4 433.9 L85.2 434.9 L93.9 436.2 L102.6 437.4 L111.3 438.8 L116.6 435.3 L123.5 430.9 L128.8 428.3 L133.0 426.6 L140.0 423.1 L147.0 419.9 L150.4 418.7 L157.4 420.5 L164.4 421.0 L171.4 421.3 L178.4 421.3 L185.3 421.0 L192.3 420.5 L197.5 420.5" fill="none" stroke="#f9c23c" stroke-width="1.2" stroke-linejoin="round"/>
<path d="M66.8 403.9 L76.4 404.8 L85.2 404.8 L93.9 403.9 L102.6 404.8 L109.6 405.6 L116.6 408.2 L123.5 407.4 L133.0 406.0 L140.0 403.9 L147.0 401.3 L153.9 398.7 L160.9 396.9 L167.9 396.0 L174.9 394.8 L181.8 393.4 L188.8 391.7 L195.8 390.8 L198.4 389.9 L198.4 404.8 L192.3 403.9 L185.3 403.9 L178.4 404.8 L171.4 406.0 L164.4 407.0 L157.4 407.4 L150.4 408.2 L147.0 410.9 L140.0 413.5 L133.0 415.2 L123.5 416.1 L116.6 417.0 L109.6 414.7 L102.6 413.5 L93.9 413.0 L85.2 413.5 L76.4 414.7 L66.8 416.1Z" fill="#fa7d14" fill-opacity="0.16" stroke="none"/>
<path d="M66.8 403.9 L76.4 404.8 L85.2 404.8 L93.9 403.9 L102.6 404.8 L109.6 405.6 L116.6 408.2 L123.5 407.4 L133.0 406.0 L140.0 403.9 L147.0 401.3 L153.9 398.7 L160.9 396.9 L167.9 396.0 L174.9 394.8 L181.8 393.4 L188.8 391.7 L195.8 390.8 L198.4 389.9" fill="none" stroke="#fa7d14" stroke-width="1.2" stroke-linejoin="round"/>
<path d="M66.8 416.1 L76.4 414.7 L85.2 413.5 L93.9 413.0 L102.6 413.5 L109.6 414.7 L116.6 417.0 L123.5 416.1 L133.0 415.2 L140.0 413.5 L147.0 410.9 L150.4 408.2 L157.4 407.4 L164.4 407.0 L171.4 406.0 L178.4 404.8 L185.3 403.9 L192.3 403.9 L198.4 404.8" fill="none" stroke="#fa7d14" stroke-width="1.2" stroke-linejoin="round"/>
<path d="M69.5 377.7 L73.0 373.4 L78.2 374.2 L83.4 376.0 L90.4 376.8 L95.6 375.1 L102.6 375.6 L107.8 376.8 L113.1 381.2 L118.3 378.6 L125.3 377.7 L133.0 375.6 L140.0 376.8 L147.0 376.8 L153.9 377.7 L160.9 378.6 L167.9 379.8 L174.9 381.2 L181.8 382.6 L188.8 383.3 L194.9 384.7 L199.3 387.3 L199.3 401.3 L194.9 396.9 L188.8 394.8 L181.8 393.8 L174.9 393.4 L167.9 392.5 L160.9 391.7 L153.9 391.7 L147.0 390.8 L140.0 389.9 L133.0 388.5 L125.3 389.9 L118.3 390.8 L113.1 392.5 L106.1 388.2 L99.1 387.3 L92.1 387.3 L85.2 388.2 L78.2 386.4 L73.0 386.4 L69.5 393.4Z" fill="#f0141e" fill-opacity="0.16" stroke="none"/>
<path d="M69.5 377.7 L73.0 373.4 L78.2 374.2 L83.4 376.0 L90.4 376.8 L95.6 375.1 L102.6 375.6 L107.8 376.8 L113.1 381.2 L118.3 378.6 L125.3 377.7 L133.0 375.6 L140.0 376.8 L147.0 376.8 L153.9 377.7 L160.9 378.6 L167.9 379.8 L174.9 381.2 L181.8 382.6 L188.8 383.3 L194.9 384.7 L199.3 387.3" fill="none" stroke="#f0141e" stroke-width="1.2" stroke-linejoin="round"/>
<path d="M69.5 393.4 L73.0 386.4 L78.2 386.4 L85.2 388.2 L92.1 387.3 L99.1 387.3 L106.1 388.2 L113.1 392.5 L118.3 390.8 L125.3 389.9 L133.0 388.5 L140.0 389.9 L147.0 390.8 L153.9 391.7 L160.9 391.7 L167.9 392.5 L174.9 393.4 L181.8 393.8 L188.8 394.8 L194.9 396.9 L199.3 401.3" fill="none" stroke="#f0141e" stroke-width="1.2" stroke-linejoin="round"/>
<path d="M66.0 429.2 L76.4 430.0 L85.2 430.9 L93.9 432.1 L102.6 433.5 L111.3 435.3 L116.6 430.9 L123.5 426.6 L128.8 424.0 L133.0 422.2 L140.0 418.7 L147.0 415.7 L150.4 414.4 L157.4 416.4 L164.4 416.4 L171.4 417.0 L178.4 417.0 L185.3 416.4 L192.3 415.7 L197.5 415.2" fill="none" stroke="#f9c23c" stroke-width="2.2" stroke-linejoin="round"/>
<path d="M66.8 410.9 L76.4 410.0 L85.2 409.1 L93.9 408.8 L102.6 409.1 L109.6 410.5 L116.6 412.6 L123.5 411.7 L133.0 410.9 L140.0 409.1 L147.0 406.5 L153.9 403.5 L160.9 402.1 L167.9 401.3 L174.9 400.4 L181.8 398.7 L188.8 397.3 L198.4 396.6" fill="none" stroke="#fa7d14" stroke-width="2.2" stroke-dasharray="6.5 5" stroke-linejoin="round"/>
<path d="M69.5 385.6 L73.0 380.3 L78.2 380.3 L85.2 382.1 L92.1 381.2 L99.1 380.9 L106.1 381.6 L113.1 386.4 L118.3 383.8 L125.3 383.0 L133.0 382.1 L140.0 383.0 L147.0 383.3 L153.9 384.7 L160.9 385.6 L167.9 386.4 L174.9 387.3 L181.8 388.2 L188.8 389.9 L194.9 391.7 L199.3 395.2" fill="none" stroke="#f0141e" stroke-width="2.2" stroke-dasharray="1.6 4.6 6.4 4.6" stroke-linejoin="round"/>
<rect x="59.00" y="369.50" width="148.80" height="84.80" fill="none" stroke="#333333" stroke-width="1.3"/>
<path d="M219.20 369.50V454.30M235.95 369.50V454.30M252.70 369.50V454.30M269.45 369.50V454.30M286.20 369.50V454.30M302.95 369.50V454.30M319.70 369.50V454.30M336.45 369.50V454.30M353.20 369.50V454.30M213.20 446.96H362.10M213.20 430.72H362.10M213.20 414.48H362.10M213.20 398.24H362.10M213.20 382.00H362.10M213.20 438.84H362.10M213.20 422.60H362.10M213.20 406.36H362.10M213.20 390.12H362.10M213.20 373.88H362.10" stroke="#ebebeb" stroke-width="0.8" fill="none"/>
<path d="M220.0 427.4 L227.0 429.2 L233.9 430.9 L240.9 432.7 L247.9 434.4 L254.9 436.2 L261.8 437.9 L268.8 439.6 L274.0 437.9 L281.0 436.2 L287.0 433.5 L294.0 431.8 L301.0 430.0 L306.2 429.2 L311.4 431.4 L318.4 432.1 L325.4 432.1 L332.4 431.8 L339.3 431.8 L346.3 430.9 L351.5 430.9 L351.5 441.4 L346.3 441.4 L339.3 441.4 L332.4 440.9 L325.4 440.9 L318.4 440.5 L311.4 439.6 L306.2 437.4 L301.0 437.9 L294.0 439.1 L287.0 441.4 L281.0 444.0 L274.0 446.1 L268.8 447.8 L261.8 446.1 L254.9 444.4 L247.9 442.3 L240.9 440.5 L233.9 438.4 L227.0 436.2 L220.0 434.4Z" fill="#f9c23c" fill-opacity="0.16" stroke="none"/>
<path d="M220.0 427.4 L227.0 429.2 L233.9 430.9 L240.9 432.7 L247.9 434.4 L254.9 436.2 L261.8 437.9 L268.8 439.6 L274.0 437.9 L281.0 436.2 L287.0 433.5 L294.0 431.8 L301.0 430.0 L306.2 429.2 L311.4 431.4 L318.4 432.1 L325.4 432.1 L332.4 431.8 L339.3 431.8 L346.3 430.9 L351.5 430.9" fill="none" stroke="#f9c23c" stroke-width="1.2" stroke-linejoin="round"/>
<path d="M220.0 434.4 L227.0 436.2 L233.9 438.4 L240.9 440.5 L247.9 442.3 L254.9 444.4 L261.8 446.1 L268.8 447.8 L274.0 446.1 L281.0 444.0 L287.0 441.4 L294.0 439.1 L301.0 437.9 L306.2 437.4 L311.4 439.6 L318.4 440.5 L325.4 440.9 L332.4 440.9 L339.3 441.4 L346.3 441.4 L351.5 441.4" fill="none" stroke="#f9c23c" stroke-width="1.2" stroke-linejoin="round"/>
<path d="M222.6 410.0 L227.0 412.6 L233.9 416.1 L240.9 417.8 L247.9 419.6 L254.9 421.3 L261.8 423.1 L268.8 424.8 L274.0 426.6 L281.0 426.6 L287.0 425.7 L294.0 424.0 L301.0 422.2 L307.9 421.0 L314.9 419.6 L321.9 418.7 L328.9 417.8 L335.8 416.1 L342.8 414.4 L349.8 412.6 L354.2 411.7 L354.2 424.8 L346.3 424.5 L339.3 424.5 L332.4 424.8 L325.4 425.2 L318.4 425.7 L311.4 426.6 L304.4 428.3 L301.0 430.4 L294.0 432.1 L287.0 433.5 L281.0 434.9 L274.0 435.3 L268.8 433.9 L261.8 432.1 L254.9 430.4 L247.9 429.2 L240.9 427.4 L233.9 425.7 L227.0 424.5 L222.6 423.1Z" fill="#fa7d14" fill-opacity="0.16" stroke="none"/>
<path d="M222.6 410.0 L227.0 412.6 L233.9 416.1 L240.9 417.8 L247.9 419.6 L254.9 421.3 L261.8 423.1 L268.8 424.8 L274.0 426.6 L281.0 426.6 L287.0 425.7 L294.0 424.0 L301.0 422.2 L307.9 421.0 L314.9 419.6 L321.9 418.7 L328.9 417.8 L335.8 416.1 L342.8 414.4 L349.8 412.6 L354.2 411.7" fill="none" stroke="#fa7d14" stroke-width="1.2" stroke-linejoin="round"/>
<path d="M222.6 423.1 L227.0 424.5 L233.9 425.7 L240.9 427.4 L247.9 429.2 L254.9 430.4 L261.8 432.1 L268.8 433.9 L274.0 435.3 L281.0 434.9 L287.0 433.5 L294.0 432.1 L301.0 430.4 L304.4 428.3 L311.4 426.6 L318.4 425.7 L325.4 425.2 L332.4 424.8 L339.3 424.5 L346.3 424.5 L354.2 424.8" fill="none" stroke="#fa7d14" stroke-width="1.2" stroke-linejoin="round"/>
<path d="M224.3 383.0 L227.0 381.2 L232.2 380.9 L237.4 383.8 L242.7 385.6 L247.9 387.3 L253.1 389.1 L258.4 393.4 L263.6 401.3 L268.8 403.9 L275.8 403.0 L282.8 403.0 L287.0 405.6 L294.0 406.5 L301.0 406.0 L307.9 407.7 L314.9 407.0 L321.9 406.5 L328.0 405.3 L334.1 407.0 L341.1 408.2 L348.0 408.8 L354.2 410.5 L354.2 424.8 L349.8 423.4 L342.8 422.2 L335.8 420.5 L328.9 418.2 L321.9 418.7 L314.9 418.7 L307.9 419.6 L301.0 418.2 L294.0 418.7 L287.0 417.0 L282.8 415.2 L275.8 414.7 L268.8 415.2 L263.6 412.6 L258.4 404.8 L253.1 401.3 L247.9 400.4 L242.7 397.8 L237.4 395.2 L232.2 391.7 L227.0 392.5 L224.3 396.9Z" fill="#f0141e" fill-opacity="0.16" stroke="none"/>
<path d="M224.3 383.0 L227.0 381.2 L232.2 380.9 L237.4 383.8 L242.7 385.6 L247.9 387.3 L253.1 389.1 L258.4 393.4 L263.6 401.3 L268.8 403.9 L275.8 403.0 L282.8 403.0 L287.0 405.6 L294.0 406.5 L301.0 406.0 L307.9 407.7 L314.9 407.0 L321.9 406.5 L328.0 405.3 L334.1 407.0 L341.1 408.2 L348.0 408.8 L354.2 410.5" fill="none" stroke="#f0141e" stroke-width="1.2" stroke-linejoin="round"/>
<path d="M224.3 396.9 L227.0 392.5 L232.2 391.7 L237.4 395.2 L242.7 397.8 L247.9 400.4 L253.1 401.3 L258.4 404.8 L263.6 412.6 L268.8 415.2 L275.8 414.7 L282.8 415.2 L287.0 417.0 L294.0 418.7 L301.0 418.2 L307.9 419.6 L314.9 418.7 L321.9 418.7 L328.9 418.2 L335.8 420.5 L342.8 422.2 L349.8 423.4 L354.2 424.8" fill="none" stroke="#f0141e" stroke-width="1.2" stroke-linejoin="round"/>
<path d="M220.0 430.9 L227.0 432.7 L233.9 434.9 L240.9 436.7 L247.9 438.4 L254.9 440.5 L261.8 442.3 L268.8 444.0 L274.0 442.3 L281.0 440.2 L287.0 437.4 L294.0 435.6 L301.0 433.9 L306.2 433.2 L311.4 434.9 L318.4 436.2 L325.4 436.7 L332.4 436.7 L339.3 436.7 L346.3 436.2 L351.5 436.2" fill="none" stroke="#f9c23c" stroke-width="2.2" stroke-linejoin="round"/>
<path d="M222.6 417.0 L227.0 419.6 L233.9 421.3 L240.9 423.1 L247.9 424.8 L254.9 426.6 L261.8 428.3 L268.8 430.0 L274.0 431.4 L281.0 430.9 L287.0 430.0 L294.0 428.3 L301.0 426.6 L307.9 424.5 L314.9 423.1 L321.9 422.2 L328.9 421.3 L335.8 419.9 L342.8 418.7 L349.8 417.8 L354.2 417.0" fill="none" stroke="#fa7d14" stroke-width="2.2" stroke-dasharray="6.5 5" stroke-linejoin="round"/>
<path d="M224.3 389.9 L227.0 386.4 L232.2 386.4 L237.4 389.9 L242.7 391.7 L247.9 394.3 L253.1 395.2 L258.4 398.7 L263.6 406.5 L268.8 410.0 L275.8 409.1 L282.8 409.1 L287.0 411.7 L294.0 412.6 L301.0 411.7 L307.9 413.5 L314.9 413.0 L321.9 412.6 L328.9 412.3 L335.8 414.4 L342.8 415.2 L349.8 416.1 L354.2 417.0" fill="none" stroke="#f0141e" stroke-width="2.2" stroke-dasharray="1.6 4.6 6.4 4.6" stroke-linejoin="round"/>
<rect x="213.20" y="369.50" width="148.90" height="84.80" fill="none" stroke="#333333" stroke-width="1.3"/>
<path d="M410.60 369.50V454.30M426.60 369.50V454.30M442.60 369.50V454.30M458.60 369.50V454.30M474.60 369.50V454.30M490.60 369.50V454.30M506.60 369.50V454.30M522.60 369.50V454.30M538.60 369.50V454.30M407.50 443.75H545.00M407.50 427.60H545.00M407.50 411.45H545.00M407.50 395.30H545.00M407.50 379.15H545.00M407.50 451.82H545.00M407.50 435.68H545.00M407.50 419.53H545.00M407.50 403.38H545.00M407.50 387.23H545.00M407.50 371.08H545.00" stroke="#ebebeb" stroke-width="0.8" fill="none"/>
<path d="M407.5 395.30H545" stroke="#1a1a1a" stroke-width="1.3" stroke-dasharray="5.5 3.71" stroke-dashoffset="1.1"/>
<path d="M412.6 404.8 L416.2 407.3 L420.3 409.4 L424.4 411.4 L428.5 414.0 L431.6 417.1 L434.7 421.2 L437.8 424.8 L440.9 428.9 L443.9 432.0 L447.0 434.5 L451.1 435.0 L455.0 434.5 L459.5 436.8 L464.1 437.3 L468.6 438.6 L473.2 439.5 L478.6 441.4 L484.1 444.1 L488.6 445.9 L493.2 446.4 L497.7 447.7 L502.3 448.6 L510.9 449.3 L517.9 447.5 L524.9 445.8 L531.9 446.7 L538.0 445.8" fill="none" stroke="#f9c23c" stroke-width="2.4" stroke-linejoin="round"/>
<path d="M413.6 409.9 L419.3 415.0 L423.4 420.2 L430.1 423.7 L435.2 428.9 L439.8 433.0 L446.0 436.1 L453.2 436.1 L455.0 435.9 L460.5 438.6 L464.1 440.9 L465.9 441.8 L469.5 438.6 L475.0 439.1 L479.5 440.0 L485.0 441.4 L489.5 438.8 L494.1 438.2 L499.5 435.5 L504.1 435.5 L507.4 434.5 L512.7 437.1 L517.9 438.0 L523.1 436.2 L528.4 435.3 L533.6 434.5 L538.0 436.2" fill="none" stroke="#fa7d14" stroke-width="2.4" stroke-dasharray="6.5 5" stroke-linejoin="round"/>
<path d="M414.7 402.4 L420.3 405.3 L427.0 407.3 L431.6 411.4 L436.7 415.5 L442.4 420.7 L446.5 424.3 L451.1 428.4 L455.0 433.6 L459.5 437.3 L464.1 438.2 L468.6 439.1 L473.2 441.8 L478.6 444.1 L481.4 445.0 L485.0 445.5 L487.7 443.2 L490.5 441.4 L495.0 442.3 L498.6 442.3 L503.2 443.2 L506.5 444.4 L510.9 440.6 L514.4 438.0 L519.6 438.5 L524.9 438.8 L530.1 439.7 L538.0 438.8" fill="none" stroke="#f0141e" stroke-width="2.4" stroke-dasharray="1.6 4.6 6.4 4.6" stroke-linejoin="round"/>
<rect x="407.50" y="369.50" width="137.50" height="84.80" fill="none" stroke="#333333" stroke-width="1.3"/>
<rect x="39.50" y="369.50" width="19.50" height="84.80" fill="#d9d9d9" stroke="#333333" stroke-width="1.3"/>
<text transform="translate(52.55,411.90) rotate(-90)" text-anchor="middle" font-family="Liberation Sans, sans-serif" font-size="9.4" fill="#1a1a1a" stroke="#1a1a1a" stroke-width="0.35">TempGrainFilling</text>
<path d="M37.2 446.96H39.5" stroke="#333333" stroke-width="1.1"/>
<text transform="translate(34.8,451.26) scale(0.9,1)" text-anchor="end" font-family="Liberation Sans, sans-serif" font-size="10.6" fill="#4d4d4d" stroke="#4d4d4d" stroke-width="0.15">4</text>
<path d="M37.2 430.72H39.5" stroke="#333333" stroke-width="1.1"/>
<text transform="translate(34.8,435.02) scale(0.9,1)" text-anchor="end" font-family="Liberation Sans, sans-serif" font-size="10.6" fill="#4d4d4d" stroke="#4d4d4d" stroke-width="0.15">6</text>
<path d="M37.2 414.48H39.5" stroke="#333333" stroke-width="1.1"/>
<text transform="translate(34.8,418.78) scale(0.9,1)" text-anchor="end" font-family="Liberation Sans, sans-serif" font-size="10.6" fill="#4d4d4d" stroke="#4d4d4d" stroke-width="0.15">8</text>
<path d="M37.2 398.24H39.5" stroke="#333333" stroke-width="1.1"/>
<text transform="translate(34.8,402.54) scale(0.9,1)" text-anchor="end" font-family="Liberation Sans, sans-serif" font-size="10.6" fill="#4d4d4d" stroke="#4d4d4d" stroke-width="0.15">10</text>
<path d="M37.2 382.00H39.5" stroke="#333333" stroke-width="1.1"/>
<text transform="translate(34.8,386.30) scale(0.9,1)" text-anchor="end" font-family="Liberation Sans, sans-serif" font-size="10.6" fill="#4d4d4d" stroke="#4d4d4d" stroke-width="0.15">12</text>
<path d="M405.2 443.75H407.5" stroke="#333333" stroke-width="1.1"/>
<text transform="translate(401.6,448.05) scale(0.9,1)" text-anchor="end" font-family="Liberation Sans, sans-serif" font-size="10.6" fill="#4d4d4d" stroke="#4d4d4d" stroke-width="0.15">0.7</text>
<path d="M405.2 427.60H407.5" stroke="#333333" stroke-width="1.1"/>
<text transform="translate(401.6,431.90) scale(0.9,1)" text-anchor="end" font-family="Liberation Sans, sans-serif" font-size="10.6" fill="#4d4d4d" stroke="#4d4d4d" stroke-width="0.15">0.8</text>
<path d="M405.2 411.45H407.5" stroke="#333333" stroke-width="1.1"/>
<text transform="translate(401.6,415.75) scale(0.9,1)" text-anchor="end" font-family="Liberation Sans, sans-serif" font-size="10.6" fill="#4d4d4d" stroke="#4d4d4d" stroke-width="0.15">0.9</text>
<path d="M405.2 395.30H407.5" stroke="#333333" stroke-width="1.1"/>
<text transform="translate(401.6,399.60) scale(0.9,1)" text-anchor="end" font-family="Liberation Sans, sans-serif" font-size="10.6" fill="#4d4d4d" stroke="#4d4d4d" stroke-width="0.15">1.0</text>
<path d="M405.2 379.15H407.5" stroke="#333333" stroke-width="1.1"/>
<text transform="translate(401.6,383.45) scale(0.9,1)" text-anchor="end" font-family="Liberation Sans, sans-serif" font-size="10.6" fill="#4d4d4d" stroke="#4d4d4d" stroke-width="0.15">1.1</text>
<text x="5.4" y="383.6" font-family="Liberation Sans, sans-serif" font-size="22.8" fill="#000" stroke="#000" stroke-width="0.25">E</text>
<path d="M64.60 454.3V456.6" stroke="#333333" stroke-width="1.1"/>
<text transform="translate(64.60,465.9) scale(0.9,1)" text-anchor="middle" font-family="Liberation Sans, sans-serif" font-size="10.6" fill="#4d4d4d" stroke="#4d4d4d" stroke-width="0.15">0</text>
<path d="M98.00 454.3V456.6" stroke="#333333" stroke-width="1.1"/>
<text transform="translate(98.00,465.9) scale(0.9,1)" text-anchor="middle" font-family="Liberation Sans, sans-serif" font-size="10.6" fill="#4d4d4d" stroke="#4d4d4d" stroke-width="0.15">10</text>
<path d="M131.40 454.3V456.6" stroke="#333333" stroke-width="1.1"/>
<text transform="translate(131.40,465.9) scale(0.9,1)" text-anchor="middle" font-family="Liberation Sans, sans-serif" font-size="10.6" fill="#4d4d4d" stroke="#4d4d4d" stroke-width="0.15">20</text>
<path d="M164.80 454.3V456.6" stroke="#333333" stroke-width="1.1"/>
<text transform="translate(164.80,465.9) scale(0.9,1)" text-anchor="middle" font-family="Liberation Sans, sans-serif" font-size="10.6" fill="#4d4d4d" stroke="#4d4d4d" stroke-width="0.15">30</text>
<path d="M198.20 454.3V456.6" stroke="#333333" stroke-width="1.1"/>
<text transform="translate(198.20,465.9) scale(0.9,1)" text-anchor="middle" font-family="Liberation Sans, sans-serif" font-size="10.6" fill="#4d4d4d" stroke="#4d4d4d" stroke-width="0.15">40</text>
<path d="M219.20 454.3V456.6" stroke="#333333" stroke-width="1.1"/>
<text transform="translate(219.20,465.9) scale(0.9,1)" text-anchor="middle" font-family="Liberation Sans, sans-serif" font-size="10.6" fill="#4d4d4d" stroke="#4d4d4d" stroke-width="0.15">0</text>
<path d="M252.70 454.3V456.6" stroke="#333333" stroke-width="1.1"/>
<text transform="translate(252.70,465.9) scale(0.9,1)" text-anchor="middle" font-family="Liberation Sans, sans-serif" font-size="10.6" fill="#4d4d4d" stroke="#4d4d4d" stroke-width="0.15">10</text>
<path d="M286.20 454.3V456.6" stroke="#333333" stroke-width="1.1"/>
<text transform="translate(286.20,465.9) scale(0.9,1)" text-anchor="middle" font-family="Liberation Sans, sans-serif" font-size="10.6" fill="#4d4d4d" stroke="#4d4d4d" stroke-width="0.15">20</text>
<path d="M319.70 454.3V456.6" stroke="#333333" stroke-width="1.1"/>
<text transform="translate(319.70,465.9) scale(0.9,1)" text-anchor="middle" font-family="Liberation Sans, sans-serif" font-size="10.6" fill="#4d4d4d" stroke="#4d4d4d" stroke-width="0.15">30</text>
<path d="M353.20 454.3V456.6" stroke="#333333" stroke-width="1.1"/>
<text transform="translate(353.20,465.9) scale(0.9,1)" text-anchor="middle" font-family="Liberation Sans, sans-serif" font-size="10.6" fill="#4d4d4d" stroke="#4d4d4d" stroke-width="0.15">40</text>
<path d="M410.60 454.3V456.6" stroke="#333333" stroke-width="1.1"/>
<text transform="translate(410.60,465.9) scale(0.9,1)" text-anchor="middle" font-family="Liberation Sans, sans-serif" font-size="10.6" fill="#4d4d4d" stroke="#4d4d4d" stroke-width="0.15">0</text>
<path d="M442.60 454.3V456.6" stroke="#333333" stroke-width="1.1"/>
<text transform="translate(442.60,465.9) scale(0.9,1)" text-anchor="middle" font-family="Liberation Sans, sans-serif" font-size="10.6" fill="#4d4d4d" stroke="#4d4d4d" stroke-width="0.15">10</text>
<path d="M474.60 454.3V456.6" stroke="#333333" stroke-width="1.1"/>
<text transform="translate(474.60,465.9) scale(0.9,1)" text-anchor="middle" font-family="Liberation Sans, sans-serif" font-size="10.6" fill="#4d4d4d" stroke="#4d4d4d" stroke-width="0.15">20</text>
<path d="M506.60 454.3V456.6" stroke="#333333" stroke-width="1.1"/>
<text transform="translate(506.60,465.9) scale(0.9,1)" text-anchor="middle" font-family="Liberation Sans, sans-serif" font-size="10.6" fill="#4d4d4d" stroke="#4d4d4d" stroke-width="0.15">30</text>
<path d="M538.60 454.3V456.6" stroke="#333333" stroke-width="1.1"/>
<text transform="translate(538.60,465.9) scale(0.9,1)" text-anchor="middle" font-family="Liberation Sans, sans-serif" font-size="10.6" fill="#4d4d4d" stroke="#4d4d4d" stroke-width="0.15">40</text>
<text x="210.7" y="479.7" text-anchor="middle" font-family="Liberation Sans, sans-serif" font-size="11.8" fill="#000" stroke="#000" stroke-width="0.25">Years from tree planting</text>
<text x="476.3" y="479.7" text-anchor="middle" font-family="Liberation Sans, sans-serif" font-size="11.8" fill="#000" stroke="#000" stroke-width="0.25">Years from tree planting</text>
</svg></body></html>
